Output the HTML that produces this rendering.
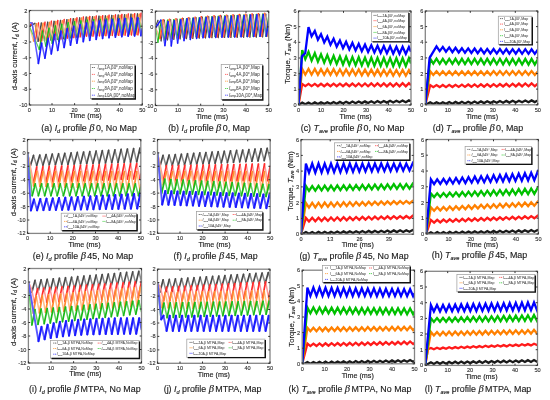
<!DOCTYPE html>
<html><head><meta charset="utf-8"><style>
html,body{margin:0;padding:0;background:#fff;width:550px;height:400px;overflow:hidden}
svg{display:block;will-change:transform}
text{font-family:"Liberation Sans",sans-serif;fill:#1a1a1a;stroke:#1a1a1a;stroke-width:0.14px}
.tk{font-size:5.6px;fill:#2a2a2a;stroke:#2a2a2a;stroke-width:0.1px}
.xl{font-size:7.2px}
.yl{font-size:7.7px}
.cap{font-size:8.9px}
.sub{font-size:5.5px}
.lg{fill:#505050;stroke:#505050;stroke-width:0.05px}
.lsub{font-size:66%}
</style></head><body>
<svg width="550" height="400" viewBox="0 0 550 400">
<rect width="550" height="400" fill="#fff"/>
<clipPath id="c0"><rect x="29.4" y="7.5" width="112.9" height="97.5"/></clipPath>
<g clip-path="url(#c0)">
<path d="M34.9 23.3L38.1 41.4M41.3 23.0L44.5 40.7M47.7 22.1L50.9 40.0M54.1 21.3L57.3 39.3M60.5 20.4L63.7 38.6M66.9 19.6L70.1 37.9M73.3 18.7L76.5 37.3M79.7 17.8L82.9 36.6M86.2 17.0L89.4 36.2M92.6 16.6L95.8 36.0M99.0 16.2L102.2 35.8M105.4 15.8L108.6 35.6M111.8 15.4L115.0 35.4M118.2 15.0L121.4 35.3M124.6 14.6L127.8 35.1M131.0 14.2L134.2 34.9M137.5 13.8L140.7 34.7" fill="none" stroke="#8a8a8a" stroke-width="1.22" stroke-linecap="round"/>
<path d="M29.4 26.2L34.9 23.3M38.1 41.4L41.3 23.0M44.5 40.7L47.7 22.1M50.9 40.0L54.1 21.3M57.3 39.3L60.5 20.4M63.7 38.6L66.9 19.6M70.1 37.9L73.3 18.7M76.5 37.3L79.7 17.8M82.9 36.6L86.2 17.0M89.4 36.2L92.6 16.6M95.8 36.0L99.0 16.2M102.2 35.8L105.4 15.8M108.6 35.6L111.8 15.4M115.0 35.4L118.2 15.0M121.4 35.3L124.6 14.6M127.8 35.1L131.0 14.2M134.2 34.9L137.5 13.8M140.7 34.7L142.3 23.9" fill="none" stroke="#4a4a4a" stroke-width="1.35" stroke-linecap="round"/>
<path d="M32.1 22.9L35.3 41.4M38.5 22.9L41.7 41.0M45.0 22.1L48.2 40.3M51.4 21.2L54.6 39.6M57.8 20.4L61.0 38.9M64.2 19.5L67.4 38.2M70.6 18.7L73.8 37.6M77.0 17.8L80.2 36.9M83.4 17.0L86.6 36.2M89.8 16.4L93.0 36.1M96.3 16.0L99.5 35.9M102.7 15.6L105.9 35.7M109.1 15.2L112.3 35.5M115.5 14.8L118.7 35.3M121.9 14.4L125.1 35.2M128.3 14.0L131.5 35.0M134.7 13.6L137.9 34.8M141.1 13.2L142.3 20.9" fill="none" stroke="#ff9a9a" stroke-width="1.22" stroke-linecap="round"/>
<path d="M29.4 26.2L32.1 22.9M35.3 41.4L38.5 22.9M41.7 41.0L45.0 22.1M48.2 40.3L51.4 21.2M54.6 39.6L57.8 20.4M61.0 38.9L64.2 19.5M67.4 38.2L70.6 18.7M73.8 37.6L77.0 17.8M80.2 36.9L83.4 17.0M86.6 36.2L89.8 16.4M93.0 36.1L96.3 16.0M99.5 35.9L102.7 15.6M105.9 35.7L109.1 15.2M112.3 35.5L115.5 14.8M118.7 35.3L121.9 14.4M125.1 35.2L128.3 14.0M131.5 35.0L134.7 13.6M137.9 34.8L141.1 13.2" fill="none" stroke="#ff2a2a" stroke-width="1.35" stroke-linecap="round"/>
<path d="M29.4 26.2L33.5 41.0M36.7 23.7L39.9 40.8M43.1 23.1L46.3 40.1M49.5 22.3L52.7 39.4M55.9 21.4L59.2 38.7M62.4 20.6L65.6 38.0M68.8 19.7L72.0 37.4M75.2 18.8L78.4 36.7M81.6 18.0L84.8 36.0M88.0 17.3L91.2 35.7M94.4 16.9L97.6 35.5M100.8 16.5L104.0 35.3M107.3 16.1L110.5 35.2M113.7 15.7L116.9 35.0M120.1 15.3L123.3 34.8M126.5 14.9L129.7 34.6M132.9 14.5L136.1 34.5M139.3 14.1L142.3 32.9" fill="none" stroke="#ffbf88" stroke-width="1.22" stroke-linecap="round"/>
<path d="M33.5 41.0L36.7 23.7M39.9 40.8L43.1 23.1M46.3 40.1L49.5 22.3M52.7 39.4L55.9 21.4M59.2 38.7L62.4 20.6M65.6 38.0L68.8 19.7M72.0 37.4L75.2 18.8M78.4 36.7L81.6 18.0M84.8 36.0L88.0 17.3M91.2 35.7L94.4 16.9M97.6 35.5L100.8 16.5M104.0 35.3L107.3 16.1M110.5 35.2L113.7 15.7M116.9 35.0L120.1 15.3M123.3 34.8L126.5 14.9M129.7 34.6L132.9 14.5M136.1 34.5L139.3 14.1" fill="none" stroke="#ff8a30" stroke-width="1.35" stroke-linecap="round"/>
<path d="M29.4 26.2L39.3 49.5M42.5 31.0L45.8 46.1M49.0 28.1L52.2 43.4M55.4 25.8L58.6 41.3M61.8 24.1L65.0 39.6M68.2 22.7L71.4 38.2M74.6 21.6L77.8 37.1M81.0 20.8L84.2 36.2M87.4 20.1L90.6 35.5M93.8 19.6L97.1 34.9M100.3 19.3L103.5 34.5M106.7 19.0L109.9 34.1M113.1 18.8L116.3 33.8M119.5 18.6L122.7 33.5M125.9 18.5L129.1 33.3M132.3 18.5L135.5 33.1M138.7 18.4L141.9 32.9" fill="none" stroke="#60d060" stroke-width="1.22" stroke-linecap="round"/>
<path d="M39.3 49.5L42.5 31.0M45.8 46.1L49.0 28.1M52.2 43.4L55.4 25.8M58.6 41.3L61.8 24.1M65.0 39.6L68.2 22.7M71.4 38.2L74.6 21.6M77.8 37.1L81.0 20.8M84.2 36.2L87.4 20.1M90.6 35.5L93.8 19.6M97.1 34.9L100.3 19.3M103.5 34.5L106.7 19.0M109.9 34.1L113.1 18.8M116.3 33.8L119.5 18.6M122.7 33.5L125.9 18.5M129.1 33.3L132.3 18.5M135.5 33.1L138.7 18.4M141.9 32.9L142.3 31.3" fill="none" stroke="#18b818" stroke-width="1.35" stroke-linecap="round"/>
<path d="M29.4 22.7L32.1 23.1M32.1 23.1L38.4 63.4M41.6 43.0L44.9 58.2M48.1 38.3L51.3 53.9M54.5 34.4L57.7 50.4M60.9 31.2L64.1 47.5M67.3 28.5L70.5 45.1M73.7 26.4L76.9 43.2M80.1 24.6L83.3 41.6M86.5 23.1L89.7 40.3M93.0 22.0L96.2 39.3M99.4 21.0L102.6 38.4M105.8 20.2L109.0 37.7M112.2 19.5L115.4 37.1M118.6 19.0L121.8 36.6M125.0 18.5L128.2 36.2M131.4 18.1L134.6 35.9M137.8 17.8L141.0 35.7" fill="none" stroke="#5a5aff" stroke-width="1.52" stroke-linecap="round"/>
<path d="M38.4 63.4L41.6 43.0M44.9 58.2L48.1 38.3M51.3 53.9L54.5 34.4M57.7 50.4L60.9 31.2M64.1 47.5L67.3 28.5M70.5 45.1L73.7 26.4M76.9 43.2L80.1 24.6M83.3 41.6L86.5 23.1M89.7 40.3L93.0 22.0M96.2 39.3L99.4 21.0M102.6 38.4L105.8 20.2M109.0 37.7L112.2 19.5M115.4 37.1L118.6 19.0M121.8 36.6L125.0 18.5M128.2 36.2L131.4 18.1M134.6 35.9L137.8 17.8M141.0 35.7L142.3 28.6" fill="none" stroke="#1a1aff" stroke-width="1.69" stroke-linecap="round"/>
</g>
<rect x="29.4" y="10.5" width="112.9" height="94.5" fill="none" stroke="#858585" stroke-width="1.3"/>
<path d="M29.4 105.0v-1.8M29.4 10.5v1.8M52.0 105.0v-1.8M52.0 10.5v1.8M74.6 105.0v-1.8M74.6 10.5v1.8M97.1 105.0v-1.8M97.1 10.5v1.8M119.7 105.0v-1.8M119.7 10.5v1.8M142.3 105.0v-1.8M142.3 10.5v1.8M29.4 105.0h1.8M142.3 105.0h-1.8M29.4 89.2h1.8M142.3 89.2h-1.8M29.4 73.5h1.8M142.3 73.5h-1.8M29.4 57.8h1.8M142.3 57.8h-1.8M29.4 42.0h1.8M142.3 42.0h-1.8M29.4 26.2h1.8M142.3 26.2h-1.8M29.4 10.5h1.8M142.3 10.5h-1.8" stroke="#303030" stroke-width="1"/>
<text x="27.4" y="107.0" text-anchor="end" class="tk">-10</text>
<text x="27.4" y="91.2" text-anchor="end" class="tk">-8</text>
<text x="27.4" y="75.5" text-anchor="end" class="tk">-6</text>
<text x="27.4" y="59.8" text-anchor="end" class="tk">-4</text>
<text x="27.4" y="44.0" text-anchor="end" class="tk">-2</text>
<text x="27.4" y="28.2" text-anchor="end" class="tk">0</text>
<text x="27.4" y="12.5" text-anchor="end" class="tk">2</text>
<text x="29.4" y="111.8" text-anchor="middle" class="tk">0</text>
<text x="52.0" y="111.8" text-anchor="middle" class="tk">10</text>
<text x="74.6" y="111.8" text-anchor="middle" class="tk">20</text>
<text x="97.1" y="111.8" text-anchor="middle" class="tk">30</text>
<text x="119.7" y="111.8" text-anchor="middle" class="tk">40</text>
<text x="142.3" y="111.8" text-anchor="middle" class="tk">50</text>
<rect x="90.6" y="64.4" width="44.4" height="34.3" fill="#fff" stroke="#9a9a9a" stroke-width="0.7"/>
<path d="M135.3 65.4V99.0H91.6" fill="none" stroke="#111" stroke-width="1.4"/>
<path d="M91.9 67.5h3.5" stroke="#1a1a1a" stroke-width="0.9" stroke-dasharray="1.2 0.6" opacity="0.7"/>
<text x="97.5" y="69.0" class="lg" font-size="4.45"><tspan font-style="italic">I</tspan><tspan class="lsub" dy="0.7">amp</tspan><tspan dy="-0.7">1A,</tspan>β0°,noMap</text>
<path d="M91.9 74.4h3.5" stroke="#ff1a1a" stroke-width="0.9" stroke-dasharray="1.2 0.6" opacity="0.7"/>
<text x="97.5" y="75.9" class="lg" font-size="4.45"><tspan font-style="italic">I</tspan><tspan class="lsub" dy="0.7">amp</tspan><tspan dy="-0.7">4A,</tspan>β0°,noMap</text>
<path d="M91.9 81.2h3.5" stroke="#ff8000" stroke-width="0.9" stroke-dasharray="1.2 0.6" opacity="0.7"/>
<text x="97.5" y="82.7" class="lg" font-size="4.45"><tspan font-style="italic">I</tspan><tspan class="lsub" dy="0.7">amp</tspan><tspan dy="-0.7">6A,</tspan>β0°,noMap</text>
<path d="M91.9 88.5h3.5" stroke="#00c000" stroke-width="0.9" stroke-dasharray="1.2 0.6" opacity="0.7"/>
<text x="97.5" y="90.0" class="lg" font-size="4.45"><tspan font-style="italic">I</tspan><tspan class="lsub" dy="0.7">amp</tspan><tspan dy="-0.7">8A,</tspan>β0°,noMap</text>
<path d="M91.9 95.2h3.5" stroke="#0000ff" stroke-width="0.9" stroke-dasharray="1.2 0.6" opacity="0.7"/>
<text x="97.5" y="96.7" class="lg" font-size="4.45"><tspan font-style="italic">I</tspan><tspan class="lsub" dy="0.7">amp</tspan><tspan dy="-0.7">10A,</tspan>β0°,noMap</text>
<text transform="translate(17.2,56.2) rotate(-90)" text-anchor="middle" class="yl">d-axis current, <tspan font-style="italic">I</tspan><tspan font-size="5" dy="1.3">d</tspan><tspan dy="-1.3"> (A)</tspan></text>
<text x="85.6" y="117.6" text-anchor="middle" class="xl">Time (ms)</text>
<text x="89.1" y="130.6" text-anchor="middle" class="cap">(a) <tspan font-style="italic">I</tspan><tspan class="sub" font-style="italic" dy="2">d</tspan><tspan dy="-2"> profile </tspan><tspan font-family="Liberation Serif" font-style="italic" font-size="10.5">β</tspan><tspan font-size="5"> </tspan>0, No Map</text>
<clipPath id="c43"><rect x="155.4" y="8.2" width="113.29999999999998" height="97.3"/></clipPath>
<g clip-path="url(#c43)">
<path d="M157.9 20.4L161.1 40.9M164.3 20.2L167.5 39.9M170.6 19.7L173.8 39.3M177.0 19.2L180.1 38.9M183.3 18.7L186.5 38.7M189.7 18.2L192.8 38.4M196.0 17.7L199.2 38.2M202.4 17.2L205.5 37.9M208.7 16.7L211.9 37.7M215.0 16.3L218.2 37.6M221.4 16.0L224.6 37.5M227.7 15.7L230.9 37.4M234.1 15.4L237.2 37.4M240.4 15.1L243.6 37.3M246.8 14.9L249.9 37.2M253.1 14.6L256.3 37.1M259.5 14.3L262.6 37.0M265.8 14.0L268.7 35.0" fill="none" stroke="#8a8a8a" stroke-width="1.08" stroke-linecap="round"/>
<path d="M155.4 26.9L157.9 20.4M161.1 40.9L164.3 20.2M167.5 39.9L170.6 19.7M173.8 39.3L177.0 19.2M180.1 38.9L183.3 18.7M186.5 38.7L189.7 18.2M192.8 38.4L196.0 17.7M199.2 38.2L202.4 17.2M205.5 37.9L208.7 16.7M211.9 37.7L215.0 16.3M218.2 37.6L221.4 16.0M224.6 37.5L227.7 15.7M230.9 37.4L234.1 15.4M237.2 37.4L240.4 15.1M243.6 37.3L246.8 14.9M249.9 37.2L253.1 14.6M256.3 37.1L259.5 14.3M262.6 37.0L265.8 14.0" fill="none" stroke="#4a4a4a" stroke-width="1.20" stroke-linecap="round"/>
<path d="M155.4 26.9L160.2 38.7M163.3 19.5L166.5 38.6M169.7 19.0L172.8 38.3M176.0 18.5L179.2 38.1M182.4 18.0L185.5 37.9M188.7 17.5L191.9 37.7M195.1 17.0L198.2 37.4M201.4 16.5L204.6 37.2M207.7 16.0L210.9 37.0M214.1 15.6L217.3 36.9M220.4 15.3L223.6 36.8M226.8 15.0L230.0 36.7M233.1 14.7L236.3 36.6M239.5 14.4L242.6 36.5M245.8 14.1L249.0 36.4M252.2 13.8L255.3 36.3M258.5 13.5L261.7 36.2M264.8 13.2L268.0 36.1" fill="none" stroke="#ff9a9a" stroke-width="1.08" stroke-linecap="round"/>
<path d="M160.2 38.7L163.3 19.5M166.5 38.6L169.7 19.0M172.8 38.3L176.0 18.5M179.2 38.1L182.4 18.0M185.5 37.9L188.7 17.5M191.9 37.7L195.1 17.0M198.2 37.4L201.4 16.5M204.6 37.2L207.7 16.0M210.9 37.0L214.1 15.6M217.3 36.9L220.4 15.3M223.6 36.8L226.8 15.0M230.0 36.7L233.1 14.7M236.3 36.6L239.5 14.4M242.6 36.5L245.8 14.1M249.0 36.4L252.2 13.8M255.3 36.3L258.5 13.5M261.7 36.2L264.8 13.2M268.0 36.1L268.7 31.2" fill="none" stroke="#ff2a2a" stroke-width="1.20" stroke-linecap="round"/>
<path d="M155.4 26.9L159.3 38.7M162.5 20.0L165.7 38.6M168.9 19.5L172.0 38.4M175.2 19.0L178.4 38.1M181.5 18.5L184.7 37.9M187.9 18.0L191.1 37.7M194.2 17.5L197.4 37.5M200.6 17.0L203.7 37.2M206.9 16.5L210.1 37.0M213.3 16.0L216.4 36.9M219.6 15.7L222.8 36.8M226.0 15.4L229.1 36.7M232.3 15.1L235.5 36.6M238.6 14.8L241.8 36.5M245.0 14.5L248.2 36.4M251.3 14.2L254.5 36.3M257.7 14.0L260.9 36.2M264.0 13.7L267.2 36.2" fill="none" stroke="#ffbf88" stroke-width="1.08" stroke-linecap="round"/>
<path d="M159.3 38.7L162.5 20.0M165.7 38.6L168.9 19.5M172.0 38.4L175.2 19.0M178.4 38.1L181.5 18.5M184.7 37.9L187.9 18.0M191.1 37.7L194.2 17.5M197.4 37.5L200.6 17.0M203.7 37.2L206.9 16.5M210.1 37.0L213.3 16.0M216.4 36.9L219.6 15.7M222.8 36.8L226.0 15.4M229.1 36.7L232.3 15.1M235.5 36.6L238.6 14.8M241.8 36.5L245.0 14.5M248.2 36.4L251.3 14.2M254.5 36.3L257.7 14.0M260.9 36.2L264.0 13.7M267.2 36.2L268.7 25.4" fill="none" stroke="#ff8a30" stroke-width="1.20" stroke-linecap="round"/>
<path d="M155.4 26.9L157.9 42.4M161.1 20.4L164.3 40.2M167.5 20.0L170.6 38.8M173.8 19.5L177.0 38.0M180.1 19.0L183.3 37.4M186.5 18.5L189.7 37.1M192.8 18.0L196.0 36.9M199.2 17.5L202.4 36.8M205.5 17.0L208.7 36.7M211.9 16.5L215.0 36.6M218.2 16.2L221.4 36.6M224.6 15.9L227.7 36.6M230.9 15.6L234.1 36.6M237.2 15.3L240.4 36.5M243.6 15.0L246.8 36.5M249.9 14.7L253.1 36.5M256.3 14.4L259.5 36.5M262.6 14.1L265.8 36.5" fill="none" stroke="#60d060" stroke-width="1.08" stroke-linecap="round"/>
<path d="M157.9 42.4L161.1 20.4M164.3 40.2L167.5 20.0M170.6 38.8L173.8 19.5M177.0 38.0L180.1 19.0M183.3 37.4L186.5 18.5M189.7 37.1L192.8 18.0M196.0 36.9L199.2 17.5M202.4 36.8L205.5 17.0M208.7 36.7L211.9 16.5M215.0 36.6L218.2 16.2M221.4 36.6L224.6 15.9M227.7 36.6L230.9 15.6M234.1 36.6L237.2 15.3M240.4 36.5L243.6 15.0M246.8 36.5L249.9 14.7M253.1 36.5L256.3 14.4M259.5 36.5L262.6 14.1M265.8 36.5L268.7 15.8" fill="none" stroke="#18b818" stroke-width="1.20" stroke-linecap="round"/>
<path d="M160.8 20.1L164.9 45.6M168.1 21.6L171.3 45.9M174.4 20.6L177.6 43.1M180.8 19.7L184.0 40.6M187.1 18.8L190.3 39.5M193.5 18.3L196.6 38.4M199.8 17.9L203.0 37.7M206.2 17.6L209.3 37.5M212.5 17.2L215.7 37.4M218.8 16.9L222.0 37.2M225.2 16.5L228.4 37.1M231.5 16.2L234.7 36.9M237.9 15.8L241.1 36.8M244.2 15.5L247.4 36.6M250.6 15.1L253.7 36.5M256.9 14.8L260.1 36.3M263.3 14.5L266.4 36.2" fill="none" stroke="#5a5aff" stroke-width="1.35" stroke-linecap="round"/>
<path d="M155.4 28.1L160.8 20.1M164.9 45.6L168.1 21.6M171.3 45.9L174.4 20.6M177.6 43.1L180.8 19.7M184.0 40.6L187.1 18.8M190.3 39.5L193.5 18.3M196.6 38.4L199.8 17.9M203.0 37.7L206.2 17.6M209.3 37.5L212.5 17.2M215.7 37.4L218.8 16.9M222.0 37.2L225.2 16.5M228.4 37.1L231.5 16.2M234.7 36.9L237.9 15.8M241.1 36.8L244.2 15.5M247.4 36.6L250.6 15.1M253.7 36.5L256.9 14.8M260.1 36.3L263.3 14.5M266.4 36.2L268.7 20.5" fill="none" stroke="#1a1aff" stroke-width="1.50" stroke-linecap="round"/>
</g>
<rect x="155.4" y="11.2" width="113.3" height="94.3" fill="none" stroke="#858585" stroke-width="1.3"/>
<path d="M155.4 105.5v-1.8M155.4 11.2v1.8M178.1 105.5v-1.8M178.1 11.2v1.8M200.7 105.5v-1.8M200.7 11.2v1.8M223.4 105.5v-1.8M223.4 11.2v1.8M246.0 105.5v-1.8M246.0 11.2v1.8M268.7 105.5v-1.8M268.7 11.2v1.8M155.4 105.5h1.8M268.7 105.5h-1.8M155.4 89.8h1.8M268.7 89.8h-1.8M155.4 74.1h1.8M268.7 74.1h-1.8M155.4 58.4h1.8M268.7 58.4h-1.8M155.4 42.6h1.8M268.7 42.6h-1.8M155.4 26.9h1.8M268.7 26.9h-1.8M155.4 11.2h1.8M268.7 11.2h-1.8" stroke="#303030" stroke-width="1"/>
<text x="153.4" y="107.5" text-anchor="end" class="tk">-10</text>
<text x="153.4" y="91.8" text-anchor="end" class="tk">-8</text>
<text x="153.4" y="76.1" text-anchor="end" class="tk">-6</text>
<text x="153.4" y="60.4" text-anchor="end" class="tk">-4</text>
<text x="153.4" y="44.6" text-anchor="end" class="tk">-2</text>
<text x="153.4" y="28.9" text-anchor="end" class="tk">0</text>
<text x="153.4" y="13.2" text-anchor="end" class="tk">2</text>
<text x="155.4" y="112.3" text-anchor="middle" class="tk">0</text>
<text x="178.1" y="112.3" text-anchor="middle" class="tk">10</text>
<text x="200.7" y="112.3" text-anchor="middle" class="tk">20</text>
<text x="223.4" y="112.3" text-anchor="middle" class="tk">30</text>
<text x="246.0" y="112.3" text-anchor="middle" class="tk">40</text>
<text x="268.7" y="112.3" text-anchor="middle" class="tk">50</text>
<rect x="221.2" y="64.4" width="41.2" height="35.3" fill="#fff" stroke="#9a9a9a" stroke-width="0.7"/>
<path d="M262.8 65.4V100.0H222.2" fill="none" stroke="#111" stroke-width="1.4"/>
<path d="M225.0 67.5h3.5" stroke="#1a1a1a" stroke-width="0.9" stroke-dasharray="1.2 0.6" opacity="0.7"/>
<text x="229.0" y="69.0" class="lg" font-size="4.5"><tspan font-style="italic">I</tspan><tspan class="lsub" dy="0.7">amp</tspan><tspan dy="-0.7">1A,</tspan>β0°,Map</text>
<path d="M225.0 74.4h3.5" stroke="#ff1a1a" stroke-width="0.9" stroke-dasharray="1.2 0.6" opacity="0.7"/>
<text x="229.0" y="75.9" class="lg" font-size="4.5"><tspan font-style="italic">I</tspan><tspan class="lsub" dy="0.7">amp</tspan><tspan dy="-0.7">4A,</tspan>β0°,Map</text>
<path d="M225.0 81.2h3.5" stroke="#ff8000" stroke-width="0.9" stroke-dasharray="1.2 0.6" opacity="0.7"/>
<text x="229.0" y="82.7" class="lg" font-size="4.5"><tspan font-style="italic">I</tspan><tspan class="lsub" dy="0.7">amp</tspan><tspan dy="-0.7">6A,</tspan>β0°,Map</text>
<path d="M225.0 88.5h3.5" stroke="#00c000" stroke-width="0.9" stroke-dasharray="1.2 0.6" opacity="0.7"/>
<text x="229.0" y="90.0" class="lg" font-size="4.5"><tspan font-style="italic">I</tspan><tspan class="lsub" dy="0.7">amp</tspan><tspan dy="-0.7">8A,</tspan>β0°,Map</text>
<path d="M225.0 95.2h3.5" stroke="#0000ff" stroke-width="0.9" stroke-dasharray="1.2 0.6" opacity="0.7"/>
<text x="229.0" y="96.7" class="lg" font-size="4.5"><tspan font-style="italic">I</tspan><tspan class="lsub" dy="0.7">amp</tspan><tspan dy="-0.7">10A,</tspan>β0°,Map</text>
<text x="212.0" y="118.6" text-anchor="middle" class="xl">Time (ms)</text>
<text x="209.0" y="130.5" text-anchor="middle" class="cap">(b) <tspan font-style="italic">I</tspan><tspan class="sub" font-style="italic" dy="2">d</tspan><tspan dy="-2"> profile </tspan><tspan font-family="Liberation Serif" font-style="italic" font-size="10.5">β</tspan><tspan font-size="5"> </tspan>0, Map</text>
<clipPath id="c85"><rect x="298.5" y="8.0" width="112.5" height="97.0"/></clipPath>
<g clip-path="url(#c85)">
<polyline points="298.5,105.0 302.2,102.6 305.3,104.3 308.5,102.6 311.6,104.2 314.8,102.4 317.9,104.1 321.0,102.3 324.2,103.9 327.3,102.2 330.5,103.8 333.6,102.0 336.7,103.7 339.9,101.9 343.0,103.5 346.1,101.8 349.3,103.4 352.4,101.6 355.6,103.3 358.7,101.5 361.8,103.1 365.0,101.4 368.1,103.0 371.3,101.2 374.4,102.9 377.5,101.1 380.7,102.7 383.8,101.0 386.9,102.6 390.1,100.8 393.2,102.5 396.4,100.7 399.5,102.3 402.6,100.6 405.8,102.2 408.9,100.4 411.0,101.5" fill="none" stroke="#1a1a1a" stroke-width="2.3" stroke-linejoin="miter" stroke-miterlimit="4"/>
<polyline points="298.5,105.0 302.2,83.9 305.3,86.1 308.5,83.9 311.6,86.1 314.8,83.9 317.9,86.2 321.0,83.8 324.2,86.2 327.3,83.8 330.5,86.2 333.6,83.7 336.7,86.2 339.9,83.7 343.0,86.2 346.1,83.6 349.3,86.2 352.4,83.6 355.6,86.3 358.7,83.5 361.8,86.3 365.0,83.5 368.1,86.3 371.3,83.4 374.4,86.3 377.5,83.4 380.7,86.3 383.8,83.4 386.9,86.4 390.1,83.3 393.2,86.4 396.4,83.3 399.5,86.4 402.6,83.2 405.8,86.4 408.9,83.2 411.0,85.3" fill="none" stroke="#ff1a1a" stroke-width="2.3" stroke-linejoin="miter" stroke-miterlimit="4"/>
<polyline points="298.5,105.0 302.2,68.9 305.3,74.7 308.5,68.9 311.6,74.7 314.8,69.0 317.9,74.8 321.0,69.1 324.2,74.9 327.3,69.1 330.5,74.9 333.6,69.2 336.7,75.0 339.9,69.3 343.0,75.1 346.1,69.4 349.3,75.1 352.4,69.4 355.6,75.2 358.7,69.5 361.8,75.3 365.0,69.6 368.1,75.3 371.3,69.7 374.4,75.4 377.5,69.7 380.7,75.5 383.8,69.8 386.9,75.5 390.1,69.9 393.2,75.6 396.4,70.0 399.5,75.7 402.6,70.0 405.8,75.7 408.9,70.1 411.0,73.9" fill="none" stroke="#ff8000" stroke-width="2.3" stroke-linejoin="miter" stroke-miterlimit="4"/>
<polyline points="298.5,105.0 302.2,50.2 305.3,59.1 308.5,51.9 311.6,60.6 314.8,53.2 317.9,61.7 321.0,54.3 324.2,62.7 327.3,55.1 330.5,63.4 333.6,55.8 336.7,64.0 339.9,56.3 343.0,64.5 346.1,56.7 349.3,64.9 352.4,57.1 355.6,65.2 358.7,57.3 361.8,65.4 365.0,57.6 368.1,65.6 371.3,57.7 374.4,65.8 377.5,57.9 380.7,65.9 383.8,58.0 386.9,66.0 390.1,58.1 393.2,66.1 396.4,58.1 399.5,66.1 402.6,58.2 405.8,66.2 408.9,58.2 411.0,63.5" fill="none" stroke="#00c000" stroke-width="2.3" stroke-linejoin="miter" stroke-miterlimit="4"/>
<polyline points="298.5,105.0 301.9,56.4 305.2,53.3 308.5,27.2 311.6,36.3 314.8,31.0 317.9,39.7 321.0,34.1 324.2,42.5 327.3,36.6 330.5,44.8 333.6,38.7 336.7,46.6 339.9,40.4 343.0,48.1 346.1,41.7 349.3,49.4 352.4,42.9 355.6,50.4 358.7,43.8 361.8,51.2 365.0,44.5 368.1,51.9 371.3,45.2 374.4,52.5 377.5,45.7 380.7,52.9 383.8,46.1 386.9,53.3 390.1,46.4 393.2,53.6 396.4,46.7 399.5,53.8 402.6,46.9 405.8,54.0 408.9,47.1 411.0,51.8" fill="none" stroke="#0000ff" stroke-width="2.3" stroke-linejoin="miter" stroke-miterlimit="4"/>
</g>
<rect x="298.5" y="11.0" width="112.5" height="94.0" fill="none" stroke="#858585" stroke-width="1.3"/>
<path d="M298.5 105.0v-1.8M298.5 11.0v1.8M321.0 105.0v-1.8M321.0 11.0v1.8M343.5 105.0v-1.8M343.5 11.0v1.8M366.0 105.0v-1.8M366.0 11.0v1.8M388.5 105.0v-1.8M388.5 11.0v1.8M411.0 105.0v-1.8M411.0 11.0v1.8M298.5 105.0h1.8M411.0 105.0h-1.8M298.5 89.3h1.8M411.0 89.3h-1.8M298.5 73.7h1.8M411.0 73.7h-1.8M298.5 58.0h1.8M411.0 58.0h-1.8M298.5 42.3h1.8M411.0 42.3h-1.8M298.5 26.7h1.8M411.0 26.7h-1.8M298.5 11.0h1.8M411.0 11.0h-1.8" stroke="#303030" stroke-width="1"/>
<text x="296.5" y="107.0" text-anchor="end" class="tk">0</text>
<text x="296.5" y="91.3" text-anchor="end" class="tk">1</text>
<text x="296.5" y="75.7" text-anchor="end" class="tk">2</text>
<text x="296.5" y="60.0" text-anchor="end" class="tk">3</text>
<text x="296.5" y="44.3" text-anchor="end" class="tk">4</text>
<text x="296.5" y="28.7" text-anchor="end" class="tk">5</text>
<text x="296.5" y="13.0" text-anchor="end" class="tk">6</text>
<text x="298.5" y="111.8" text-anchor="middle" class="tk">0</text>
<text x="321.0" y="111.8" text-anchor="middle" class="tk">10</text>
<text x="343.5" y="111.8" text-anchor="middle" class="tk">20</text>
<text x="366.0" y="111.8" text-anchor="middle" class="tk">30</text>
<text x="388.5" y="111.8" text-anchor="middle" class="tk">40</text>
<text x="411.0" y="111.8" text-anchor="middle" class="tk">50</text>
<rect x="371.6" y="12.1" width="37.1" height="29.5" fill="#fff" stroke="#9a9a9a" stroke-width="0.7"/>
<path d="M409.0 13.1V41.9H372.6" fill="none" stroke="#111" stroke-width="1.4"/>
<path d="M373.5 15.4h3.5" stroke="#1a1a1a" stroke-width="0.9" stroke-dasharray="1.2 0.6" opacity="0.7"/>
<text x="377.0" y="16.6" class="lg" font-size="3.55"><tspan font-style="italic">I</tspan><tspan class="lsub" dy="0.7">amp</tspan><tspan dy="-0.7">1A,</tspan>β0°,noMap</text>
<path d="M373.5 20.7h3.5" stroke="#ff1a1a" stroke-width="0.9" stroke-dasharray="1.2 0.6" opacity="0.7"/>
<text x="377.0" y="21.9" class="lg" font-size="3.55"><tspan font-style="italic">I</tspan><tspan class="lsub" dy="0.7">amp</tspan><tspan dy="-0.7">4A,</tspan>β0°,noMap</text>
<path d="M373.5 26.6h3.5" stroke="#ff8000" stroke-width="0.9" stroke-dasharray="1.2 0.6" opacity="0.7"/>
<text x="377.0" y="27.8" class="lg" font-size="3.55"><tspan font-style="italic">I</tspan><tspan class="lsub" dy="0.7">amp</tspan><tspan dy="-0.7">6A,</tspan>β0°,noMap</text>
<path d="M373.5 32.4h3.5" stroke="#00c000" stroke-width="0.9" stroke-dasharray="1.2 0.6" opacity="0.7"/>
<text x="377.0" y="33.6" class="lg" font-size="3.55"><tspan font-style="italic">I</tspan><tspan class="lsub" dy="0.7">amp</tspan><tspan dy="-0.7">8A,</tspan>β0°,noMap</text>
<path d="M373.5 38.1h3.5" stroke="#0000ff" stroke-width="0.9" stroke-dasharray="1.2 0.6" opacity="0.7"/>
<text x="377.0" y="39.3" class="lg" font-size="3.55"><tspan font-style="italic">I</tspan><tspan class="lsub" dy="0.7">amp</tspan><tspan dy="-0.7">10A,</tspan>β0°,noMap</text>
<text transform="translate(289.6,53.9) rotate(-90)" text-anchor="middle" class="yl">Torque, <tspan font-style="italic">T</tspan><tspan font-size="5" dy="1.3" font-style="italic">ave</tspan><tspan dy="-1.3"> (Nm)</tspan></text>
<text x="355.6" y="118.6" text-anchor="middle" class="xl">Time (ms)</text>
<text x="352.6" y="130.5" text-anchor="middle" class="cap">(c) <tspan font-style="italic">T</tspan><tspan class="sub" font-style="italic" dy="2">ave</tspan><tspan dy="-2"> profile </tspan><tspan font-family="Liberation Serif" font-style="italic" font-size="10.5">β</tspan><tspan font-size="5"> </tspan>0, No Map</text>
<clipPath id="c123"><rect x="425.3" y="8.0" width="112.44999999999999" height="96.75"/></clipPath>
<g clip-path="url(#c123)">
<polyline points="425.3,104.8 427.0,104.0 430.2,102.3 433.3,104.0 436.5,102.3 439.7,103.9 442.8,102.2 446.0,103.8 449.2,102.0 452.4,103.7 455.5,101.9 458.7,103.6 461.9,101.8 465.0,103.4 468.2,101.7 471.4,103.3 474.6,101.5 477.7,103.2 480.9,101.4 484.1,103.1 487.2,101.3 490.4,102.9 493.6,101.2 496.8,102.8 499.9,101.0 503.1,102.7 506.3,100.9 509.4,102.6 512.6,100.8 515.8,102.4 518.9,100.7 522.1,102.3 525.3,100.5 528.5,102.2 531.6,100.4 534.8,102.1 537.8,100.4" fill="none" stroke="#1a1a1a" stroke-width="2.3" stroke-linejoin="miter" stroke-miterlimit="4"/>
<polyline points="425.3,104.8 430.2,85.1 433.3,87.2 436.5,85.1 439.7,87.1 442.8,85.0 446.0,87.1 449.2,84.9 452.4,87.0 455.5,84.8 458.7,86.9 461.9,84.6 465.0,86.9 468.2,84.5 471.4,86.8 474.6,84.4 477.7,86.8 480.9,84.3 484.1,86.7 487.2,84.2 490.4,86.7 493.6,84.1 496.8,86.6 499.9,84.0 503.1,86.5 506.3,83.8 509.4,86.5 512.6,83.7 515.8,86.4 518.9,83.6 522.1,86.4 525.3,83.5 528.5,86.3 531.6,83.4 534.8,86.3 537.8,83.5" fill="none" stroke="#ff1a1a" stroke-width="2.3" stroke-linejoin="miter" stroke-miterlimit="4"/>
<polyline points="425.3,104.8 430.2,71.2 433.3,75.0 436.5,71.2 439.7,75.0 442.8,71.2 446.0,75.0 449.2,71.2 452.4,75.0 455.5,71.2 458.7,75.0 461.9,71.2 465.0,75.0 468.2,71.2 471.4,75.0 474.6,71.2 477.7,75.0 480.9,71.2 484.1,75.0 487.2,71.2 490.4,75.0 493.6,71.1 496.8,75.0 499.9,71.1 503.1,75.0 506.3,71.1 509.4,75.0 512.6,71.1 515.8,75.0 518.9,71.1 522.1,75.0 525.3,71.1 528.5,75.0 531.6,71.1 534.8,75.0 537.8,71.4" fill="none" stroke="#ff8000" stroke-width="2.3" stroke-linejoin="miter" stroke-miterlimit="4"/>
<polyline points="425.3,104.8 430.2,58.7 433.3,63.7 436.5,58.7 439.7,63.8 442.8,58.8 446.0,63.8 449.2,58.8 452.4,63.9 455.5,58.8 458.7,64.0 461.9,58.8 465.0,64.0 468.2,58.8 471.4,64.1 474.6,58.8 477.7,64.1 480.9,58.8 484.1,64.2 487.2,58.8 490.4,64.2 493.6,58.8 496.8,64.3 499.9,58.8 503.1,64.4 506.3,58.8 509.4,64.4 512.6,58.9 515.8,64.5 518.9,58.9 522.1,64.5 525.3,58.9 528.5,64.6 531.6,58.9 534.8,64.6 537.8,59.3" fill="none" stroke="#00c000" stroke-width="2.3" stroke-linejoin="miter" stroke-miterlimit="4"/>
<polyline points="425.3,104.8 429.6,57.9 436.5,46.3 439.7,51.1 442.8,46.9 446.0,51.7 449.2,47.4 452.4,52.2 455.5,47.8 458.7,52.5 461.9,48.2 465.0,52.8 468.2,48.4 471.4,53.0 474.6,48.6 477.7,53.2 480.9,48.8 484.1,53.4 487.2,48.9 490.4,53.5 493.6,49.0 496.8,53.6 499.9,49.1 503.1,53.6 506.3,49.1 509.4,53.7 512.6,49.2 515.8,53.7 518.9,49.2 522.1,53.8 525.3,49.2 528.5,53.8 531.6,49.3 534.8,53.8 537.8,49.6" fill="none" stroke="#0000ff" stroke-width="2.3" stroke-linejoin="miter" stroke-miterlimit="4"/>
</g>
<rect x="425.3" y="11.0" width="112.4" height="93.8" fill="none" stroke="#858585" stroke-width="1.3"/>
<path d="M425.3 104.8v-1.8M425.3 11.0v1.8M447.8 104.8v-1.8M447.8 11.0v1.8M470.3 104.8v-1.8M470.3 11.0v1.8M492.8 104.8v-1.8M492.8 11.0v1.8M515.3 104.8v-1.8M515.3 11.0v1.8M537.8 104.8v-1.8M537.8 11.0v1.8M425.3 104.8h1.8M537.8 104.8h-1.8M425.3 89.1h1.8M537.8 89.1h-1.8M425.3 73.5h1.8M537.8 73.5h-1.8M425.3 57.9h1.8M537.8 57.9h-1.8M425.3 42.2h1.8M537.8 42.2h-1.8M425.3 26.6h1.8M537.8 26.6h-1.8M425.3 11.0h1.8M537.8 11.0h-1.8" stroke="#303030" stroke-width="1"/>
<text x="423.3" y="106.8" text-anchor="end" class="tk">0</text>
<text x="423.3" y="91.1" text-anchor="end" class="tk">1</text>
<text x="423.3" y="75.5" text-anchor="end" class="tk">2</text>
<text x="423.3" y="59.9" text-anchor="end" class="tk">3</text>
<text x="423.3" y="44.2" text-anchor="end" class="tk">4</text>
<text x="423.3" y="28.6" text-anchor="end" class="tk">5</text>
<text x="423.3" y="13.0" text-anchor="end" class="tk">6</text>
<text x="425.3" y="111.5" text-anchor="middle" class="tk">0</text>
<text x="447.8" y="111.5" text-anchor="middle" class="tk">10</text>
<text x="470.3" y="111.5" text-anchor="middle" class="tk">20</text>
<text x="492.8" y="111.5" text-anchor="middle" class="tk">30</text>
<text x="515.3" y="111.5" text-anchor="middle" class="tk">40</text>
<text x="537.8" y="111.5" text-anchor="middle" class="tk">50</text>
<rect x="498.3" y="16.2" width="33.7" height="28.4" fill="#fff" stroke="#9a9a9a" stroke-width="0.7"/>
<path d="M532.3 17.2V44.9H499.3" fill="none" stroke="#111" stroke-width="1.4"/>
<path d="M500.0 18.6h3.5" stroke="#1a1a1a" stroke-width="0.9" stroke-dasharray="1.2 0.6" opacity="0.7"/>
<text x="504.0" y="19.8" class="lg" font-size="3.55"><tspan font-style="italic">I</tspan><tspan class="lsub" dy="0.7">amp</tspan><tspan dy="-0.7">1A,</tspan>β0°,Map</text>
<path d="M500.0 24.1h3.5" stroke="#ff1a1a" stroke-width="0.9" stroke-dasharray="1.2 0.6" opacity="0.7"/>
<text x="504.0" y="25.3" class="lg" font-size="3.55"><tspan font-style="italic">I</tspan><tspan class="lsub" dy="0.7">amp</tspan><tspan dy="-0.7">4A,</tspan>β0°,Map</text>
<path d="M500.0 29.8h3.5" stroke="#ff8000" stroke-width="0.9" stroke-dasharray="1.2 0.6" opacity="0.7"/>
<text x="504.0" y="31.0" class="lg" font-size="3.55"><tspan font-style="italic">I</tspan><tspan class="lsub" dy="0.7">amp</tspan><tspan dy="-0.7">6A,</tspan>β0°,Map</text>
<path d="M500.0 35.7h3.5" stroke="#00c000" stroke-width="0.9" stroke-dasharray="1.2 0.6" opacity="0.7"/>
<text x="504.0" y="36.9" class="lg" font-size="3.55"><tspan font-style="italic">I</tspan><tspan class="lsub" dy="0.7">amp</tspan><tspan dy="-0.7">8A,</tspan>β0°,Map</text>
<path d="M500.0 41.4h3.5" stroke="#0000ff" stroke-width="0.9" stroke-dasharray="1.2 0.6" opacity="0.7"/>
<text x="504.0" y="42.6" class="lg" font-size="3.55"><tspan font-style="italic">I</tspan><tspan class="lsub" dy="0.7">amp</tspan><tspan dy="-0.7">10A,</tspan>β0°,Map</text>
<text x="482.0" y="118.6" text-anchor="middle" class="xl">Time (ms)</text>
<text x="478.0" y="130.5" text-anchor="middle" class="cap">(d) <tspan font-style="italic">T</tspan><tspan class="sub" font-style="italic" dy="2">ave</tspan><tspan dy="-2"> profile </tspan><tspan font-family="Liberation Serif" font-style="italic" font-size="10.5">β</tspan><tspan font-size="5"> </tspan>0, Map</text>
<clipPath id="c160"><rect x="27.5" y="136.5" width="113.30000000000001" height="96.9"/></clipPath>
<g clip-path="url(#c160)">
<path d="M27.5 152.9L30.4 165.7M33.5 155.4L36.7 165.5M39.8 155.0L42.9 165.2M46.1 154.6L49.2 165.0M52.3 154.1L55.4 164.8M58.6 153.7L61.7 164.6M64.8 153.3L67.9 164.4M71.1 152.9L74.2 164.2M77.3 152.4L80.5 163.9M83.6 152.0L86.7 163.7M89.8 151.6L93.0 163.5M96.1 151.1L99.2 163.3M102.3 150.7L105.5 163.1M108.6 150.3L111.7 162.9M114.9 149.9L118.0 162.6M121.1 149.4L124.2 162.4M127.4 149.0L130.5 162.2M133.6 148.6L136.7 162.0M139.9 148.2L140.8 152.2" fill="none" stroke="#8a8a8a" stroke-width="1.53" stroke-linecap="round"/>
<path d="M30.4 165.7L33.5 155.4M36.7 165.5L39.8 155.0M42.9 165.2L46.1 154.6M49.2 165.0L52.3 154.1M55.4 164.8L58.6 153.7M61.7 164.6L64.8 153.3M67.9 164.4L71.1 152.9M74.2 164.2L77.3 152.4M80.5 163.9L83.6 152.0M86.7 163.7L89.8 151.6M93.0 163.5L96.1 151.1M99.2 163.3L102.3 150.7M105.5 163.1L108.6 150.3M111.7 162.9L114.9 149.9M118.0 162.6L121.1 149.4M124.2 162.4L127.4 149.0M130.5 162.2L133.6 148.6M136.7 162.0L139.9 148.2" fill="none" stroke="#4a4a4a" stroke-width="1.70" stroke-linecap="round"/>
<path d="M27.5 152.9L30.4 167.0M30.4 167.0L33.5 182.3M36.7 166.8L39.8 182.1M42.9 166.6L46.1 181.9M49.2 166.4L52.3 181.7M55.4 166.2L58.6 181.5M61.7 166.0L64.8 181.3M67.9 165.8L71.1 181.1M74.2 165.6L77.3 180.8M80.5 165.4L83.6 180.6M86.7 165.2L89.8 180.4M93.0 165.0L96.1 180.2M99.2 164.7L102.3 180.0M105.5 164.5L108.6 179.8M111.7 164.3L114.9 179.6M118.0 164.1L121.1 179.4M124.2 163.9L127.4 179.2M130.5 163.7L133.6 179.0M136.7 163.5L139.9 178.8" fill="none" stroke="#ff9a9a" stroke-width="1.53" stroke-linecap="round"/>
<path d="M33.5 182.3L36.7 166.8M39.8 182.1L42.9 166.6M46.1 181.9L49.2 166.4M52.3 181.7L55.4 166.2M58.6 181.5L61.7 166.0M64.8 181.3L67.9 165.8M71.1 181.1L74.2 165.6M77.3 180.8L80.5 165.4M83.6 180.6L86.7 165.2M89.8 180.4L93.0 165.0M96.1 180.2L99.2 164.7M102.3 180.0L105.5 164.5M108.6 179.8L111.7 164.3M114.9 179.6L118.0 164.1M121.1 179.4L124.2 163.9M127.4 179.2L130.5 163.7M133.6 179.0L136.7 163.5M139.9 178.8L140.8 174.1" fill="none" stroke="#ff2a2a" stroke-width="1.70" stroke-linecap="round"/>
<path d="M27.5 152.9L30.5 171.5M30.5 171.5L33.6 186.0M36.8 171.5L39.9 186.3M43.0 171.5L46.1 186.5M49.3 171.5L52.4 186.7M55.5 171.5L58.6 186.9M61.8 171.5L64.9 187.1M68.0 171.5L71.2 187.3M74.3 171.5L77.4 187.5M80.5 171.5L83.7 187.7M86.8 171.5L89.9 187.9M93.0 171.5L96.2 188.1M99.3 171.5L102.4 188.3M105.6 171.5L108.7 188.6M111.8 171.5L114.9 188.8M118.1 171.5L121.2 189.0M124.3 171.5L127.4 189.2M130.6 171.5L133.7 189.4M136.8 171.5L139.9 189.6" fill="none" stroke="#ffbf88" stroke-width="1.53" stroke-linecap="round"/>
<path d="M33.6 186.0L36.8 171.5M39.9 186.3L43.0 171.5M46.1 186.5L49.3 171.5M52.4 186.7L55.5 171.5M58.6 186.9L61.8 171.5M64.9 187.1L68.0 171.5M71.2 187.3L74.3 171.5M77.4 187.5L80.5 171.5M83.7 187.7L86.8 171.5M89.9 187.9L93.0 171.5M96.2 188.1L99.3 171.5M102.4 188.3L105.6 171.5M108.7 188.6L111.8 171.5M114.9 188.8L118.1 171.5M121.2 189.0L124.3 171.5M127.4 189.2L130.6 171.5M133.7 189.4L136.8 171.5M139.9 189.6L140.8 184.7" fill="none" stroke="#ff8a30" stroke-width="1.70" stroke-linecap="round"/>
<path d="M27.5 152.9L32.2 195.7M35.3 183.9L38.4 195.7M41.6 183.9L44.7 195.7M47.8 183.9L50.9 195.7M54.1 183.9L57.2 195.7M60.3 183.9L63.4 195.7M66.6 183.9L69.7 195.7M72.8 183.9L76.0 195.7M79.1 183.9L82.2 195.7M85.3 183.9L88.5 195.7M91.6 183.9L94.7 195.7M97.8 183.9L101.0 195.7M104.1 183.9L107.2 195.7M110.3 183.9L113.5 195.7M116.6 183.9L119.7 195.7M122.9 183.9L126.0 195.7M129.1 183.9L132.2 195.7M135.4 183.9L138.5 195.7" fill="none" stroke="#60d060" stroke-width="1.53" stroke-linecap="round"/>
<path d="M32.2 195.7L35.3 183.9M38.4 195.7L41.6 183.9M44.7 195.7L47.8 183.9M50.9 195.7L54.1 183.9M57.2 195.7L60.3 183.9M63.4 195.7L66.6 183.9M69.7 195.7L72.8 183.9M76.0 195.7L79.1 183.9M82.2 195.7L85.3 183.9M88.5 195.7L91.6 183.9M94.7 195.7L97.8 183.9M101.0 195.7L104.1 183.9M107.2 195.7L110.3 183.9M113.5 195.7L116.6 183.9M119.7 195.7L122.9 183.9M126.0 195.7L129.1 183.9M132.2 195.7L135.4 183.9M138.5 195.7L140.8 187.0" fill="none" stroke="#18b818" stroke-width="1.70" stroke-linecap="round"/>
<path d="M27.5 152.9L30.9 210.4M34.0 199.4L37.1 210.3M40.3 199.0L43.4 210.1M46.5 198.7L49.6 210.0M52.8 198.4L55.9 209.9M59.0 198.0L62.1 209.8M65.3 197.7L68.4 209.7M71.5 197.4L74.7 209.6M77.8 197.1L80.9 209.5M84.0 196.7L87.2 209.4M90.3 196.4L93.4 209.2M96.5 196.1L99.7 209.1M102.8 195.7L105.9 209.0M109.1 195.4L112.2 208.9M115.3 195.1L118.4 208.8M121.6 194.7L124.7 208.7M127.8 194.4L130.9 208.6M134.1 194.1L137.2 208.5M140.3 193.8L140.8 196.0" fill="none" stroke="#5a5aff" stroke-width="1.91" stroke-linecap="round"/>
<path d="M30.9 210.4L34.0 199.4M37.1 210.3L40.3 199.0M43.4 210.1L46.5 198.7M49.6 210.0L52.8 198.4M55.9 209.9L59.0 198.0M62.1 209.8L65.3 197.7M68.4 209.7L71.5 197.4M74.7 209.6L77.8 197.1M80.9 209.5L84.0 196.7M87.2 209.4L90.3 196.4M93.4 209.2L96.5 196.1M99.7 209.1L102.8 195.7M105.9 209.0L109.1 195.4M112.2 208.9L115.3 195.1M118.4 208.8L121.6 194.7M124.7 208.7L127.8 194.4M130.9 208.6L134.1 194.1M137.2 208.5L140.3 193.8" fill="none" stroke="#1a1aff" stroke-width="2.12" stroke-linecap="round"/>
</g>
<rect x="27.5" y="139.5" width="113.3" height="93.9" fill="none" stroke="#858585" stroke-width="1.3"/>
<path d="M27.5 233.4v-1.8M27.5 139.5v1.8M50.2 233.4v-1.8M50.2 139.5v1.8M72.8 233.4v-1.8M72.8 139.5v1.8M95.5 233.4v-1.8M95.5 139.5v1.8M118.1 233.4v-1.8M118.1 139.5v1.8M140.8 233.4v-1.8M140.8 139.5v1.8M27.5 233.4h1.8M140.8 233.4h-1.8M27.5 220.0h1.8M140.8 220.0h-1.8M27.5 206.6h1.8M140.8 206.6h-1.8M27.5 193.2h1.8M140.8 193.2h-1.8M27.5 179.7h1.8M140.8 179.7h-1.8M27.5 166.3h1.8M140.8 166.3h-1.8M27.5 152.9h1.8M140.8 152.9h-1.8M27.5 139.5h1.8M140.8 139.5h-1.8" stroke="#303030" stroke-width="1"/>
<text x="25.5" y="235.4" text-anchor="end" class="tk">-12</text>
<text x="25.5" y="222.0" text-anchor="end" class="tk">-10</text>
<text x="25.5" y="208.6" text-anchor="end" class="tk">-8</text>
<text x="25.5" y="195.2" text-anchor="end" class="tk">-6</text>
<text x="25.5" y="181.7" text-anchor="end" class="tk">-4</text>
<text x="25.5" y="168.3" text-anchor="end" class="tk">-2</text>
<text x="25.5" y="154.9" text-anchor="end" class="tk">0</text>
<text x="25.5" y="141.5" text-anchor="end" class="tk">2</text>
<text x="27.5" y="240.2" text-anchor="middle" class="tk">0</text>
<text x="50.2" y="240.2" text-anchor="middle" class="tk">10</text>
<text x="72.8" y="240.2" text-anchor="middle" class="tk">20</text>
<text x="95.5" y="240.2" text-anchor="middle" class="tk">30</text>
<text x="118.1" y="240.2" text-anchor="middle" class="tk">40</text>
<text x="140.8" y="240.2" text-anchor="middle" class="tk">50</text>
<rect x="61.2" y="213.2" width="75.6" height="17.2" fill="#fff" stroke="#9a9a9a" stroke-width="0.7"/>
<path d="M137.1 214.2V230.7H62.2" fill="none" stroke="#111" stroke-width="1.4"/>
<path d="M64.0 216.1h3.5" stroke="#1a1a1a" stroke-width="0.9" stroke-dasharray="1.2 0.6" opacity="0.7"/>
<text x="67.3" y="217.3" class="lg" font-size="3.55"><tspan font-style="italic">I</tspan><tspan class="lsub" dy="0.7">amp</tspan><tspan dy="-0.7">1A,</tspan>β45°,noMap</text>
<path d="M102.5 216.1h3.5" stroke="#ff1a1a" stroke-width="0.9" stroke-dasharray="1.2 0.6" opacity="0.7"/>
<text x="105.7" y="217.3" class="lg" font-size="3.55"><tspan font-style="italic">I</tspan><tspan class="lsub" dy="0.7">amp</tspan><tspan dy="-0.7">4A,</tspan>β45°,noMap</text>
<path d="M64.0 221.4h3.5" stroke="#ff8000" stroke-width="0.9" stroke-dasharray="1.2 0.6" opacity="0.7"/>
<text x="67.3" y="222.6" class="lg" font-size="3.55"><tspan font-style="italic">I</tspan><tspan class="lsub" dy="0.7">amp</tspan><tspan dy="-0.7">6A,</tspan>β45°,noMap</text>
<path d="M102.5 221.4h3.5" stroke="#00c000" stroke-width="0.9" stroke-dasharray="1.2 0.6" opacity="0.7"/>
<text x="105.7" y="222.6" class="lg" font-size="3.55"><tspan font-style="italic">I</tspan><tspan class="lsub" dy="0.7">amp</tspan><tspan dy="-0.7">8A,</tspan>β45°,noMap</text>
<path d="M64.0 226.8h3.5" stroke="#0000ff" stroke-width="0.9" stroke-dasharray="1.2 0.6" opacity="0.7"/>
<text x="67.3" y="228.0" class="lg" font-size="3.55"><tspan font-style="italic">I</tspan><tspan class="lsub" dy="0.7">amp</tspan><tspan dy="-0.7">10A,</tspan>β45°,noMap</text>
<text transform="translate(15.9,182.2) rotate(-90)" text-anchor="middle" class="yl">d-axis current, <tspan font-style="italic">I</tspan><tspan font-size="5" dy="1.3">d</tspan><tspan dy="-1.3"> (A)</tspan></text>
<text x="84.5" y="247.1" text-anchor="middle" class="xl">Time (ms)</text>
<text x="83.0" y="258.6" text-anchor="middle" class="cap">(e) <tspan font-style="italic">I</tspan><tspan class="sub" font-style="italic" dy="2">d</tspan><tspan dy="-2"> profile </tspan><tspan font-family="Liberation Serif" font-style="italic" font-size="10.5">β</tspan><tspan font-size="5"> </tspan>45, No Map</text>
<clipPath id="c204"><rect x="157.5" y="136.5" width="112.69999999999999" height="96.80000000000001"/></clipPath>
<g clip-path="url(#c204)">
<path d="M157.5 152.9L160.0 166.2M163.0 155.4L166.1 165.8M169.1 155.0L172.2 165.5M175.3 154.6L178.3 165.2M181.4 154.2L184.5 164.9M187.5 153.7L190.6 164.5M193.7 153.3L196.7 164.2M199.8 152.9L202.9 163.9M205.9 152.5L209.0 163.6M212.1 152.1L215.1 163.2M218.2 151.7L221.3 162.9M224.3 151.2L227.4 162.6M230.5 150.8L233.5 162.3M236.6 150.4L239.7 161.9M242.7 150.0L245.8 161.6M248.9 149.6L251.9 161.3M255.0 149.1L258.0 161.0M261.1 148.7L264.2 160.6M267.2 148.3L270.2 159.9" fill="none" stroke="#8a8a8a" stroke-width="1.53" stroke-linecap="round"/>
<path d="M160.0 166.2L163.0 155.4M166.1 165.8L169.1 155.0M172.2 165.5L175.3 154.6M178.3 165.2L181.4 154.2M184.5 164.9L187.5 153.7M190.6 164.5L193.7 153.3M196.7 164.2L199.8 152.9M202.9 163.9L205.9 152.5M209.0 163.6L212.1 152.1M215.1 163.2L218.2 151.7M221.3 162.9L224.3 151.2M227.4 162.6L230.5 150.8M233.5 162.3L236.6 150.4M239.7 161.9L242.7 150.0M245.8 161.6L248.9 149.6M251.9 161.3L255.0 149.1M258.0 161.0L261.1 148.7M264.2 160.6L267.2 148.3" fill="none" stroke="#4a4a4a" stroke-width="1.70" stroke-linecap="round"/>
<path d="M157.5 152.9L160.3 165.8M160.3 165.8L163.3 180.6M166.4 165.7L169.5 180.6M172.5 165.6L175.6 180.6M178.7 165.5L181.7 180.6M184.8 165.4L187.8 180.6M190.9 165.3L194.0 180.6M197.0 165.1L200.1 180.6M203.2 165.0L206.2 180.6M209.3 164.9L212.4 180.6M215.4 164.8L218.5 180.6M221.6 164.7L224.6 180.6M227.7 164.6L230.8 180.6M233.8 164.5L236.9 180.6M240.0 164.4L243.0 180.6M246.1 164.3L249.2 180.6M252.2 164.1L255.3 180.6M258.4 164.0L261.4 180.6M264.5 163.9L267.5 180.6" fill="none" stroke="#ff9a9a" stroke-width="1.53" stroke-linecap="round"/>
<path d="M163.3 180.6L166.4 165.7M169.5 180.6L172.5 165.6M175.6 180.6L178.7 165.5M181.7 180.6L184.8 165.4M187.8 180.6L190.9 165.3M194.0 180.6L197.0 165.1M200.1 180.6L203.2 165.0M206.2 180.6L209.3 164.9M212.4 180.6L215.4 164.8M218.5 180.6L221.6 164.7M224.6 180.6L227.7 164.6M230.8 180.6L233.8 164.5M236.9 180.6L240.0 164.4M243.0 180.6L246.1 164.3M249.2 180.6L252.2 164.1M255.3 180.6L258.4 164.0M261.4 180.6L264.5 163.9M267.5 180.6L270.2 166.1" fill="none" stroke="#ff2a2a" stroke-width="1.70" stroke-linecap="round"/>
<path d="M157.5 152.9L160.3 171.5M160.3 171.5L163.3 184.8M166.4 171.5L169.5 185.1M172.5 171.5L175.6 185.4M178.7 171.5L181.7 185.7M184.8 171.5L187.8 186.0M190.9 171.5L194.0 186.3M197.0 171.5L200.1 186.6M203.2 171.5L206.2 186.9M209.3 171.5L212.4 187.2M215.4 171.5L218.5 187.5M221.6 171.5L224.6 187.8M227.7 171.5L230.8 188.1M233.8 171.5L236.9 188.4M240.0 171.5L243.0 188.7M246.1 171.5L249.2 189.0M252.2 171.5L255.3 189.3M258.4 171.5L261.4 189.6M264.5 171.5L267.5 189.9" fill="none" stroke="#ffbf88" stroke-width="1.53" stroke-linecap="round"/>
<path d="M163.3 184.8L166.4 171.5M169.5 185.1L172.5 171.5M175.6 185.4L178.7 171.5M181.7 185.7L184.8 171.5M187.8 186.0L190.9 171.5M194.0 186.3L197.0 171.5M200.1 186.6L203.2 171.5M206.2 186.9L209.3 171.5M212.4 187.2L215.4 171.5M218.5 187.5L221.6 171.5M224.6 187.8L227.7 171.5M230.8 188.1L233.8 171.5M236.9 188.4L240.0 171.5M243.0 188.7L246.1 171.5M249.2 189.0L252.2 171.5M255.3 189.3L258.4 171.5M261.4 189.6L264.5 171.5M267.5 189.9L270.2 174.0" fill="none" stroke="#ff8a30" stroke-width="1.70" stroke-linecap="round"/>
<path d="M157.5 152.9L161.7 193.1M164.8 179.2L167.9 193.3M170.9 179.5L174.0 193.5M177.1 179.8L180.1 193.7M183.2 180.1L186.3 193.9M189.3 180.5L192.4 194.1M195.5 180.8L198.5 194.3M201.6 181.1L204.6 194.5M207.7 181.4L210.8 194.7M213.8 181.7L216.9 194.9M220.0 182.0L223.0 195.1M226.1 182.4L229.2 195.3M232.2 182.7L235.3 195.5M238.4 183.0L241.4 195.7M244.5 183.3L247.6 195.9M250.6 183.6L253.7 196.1M256.8 183.9L259.8 196.3M262.9 184.3L266.0 196.5M269.0 184.6L270.2 189.2" fill="none" stroke="#60d060" stroke-width="1.53" stroke-linecap="round"/>
<path d="M161.7 193.1L164.8 179.2M167.9 193.3L170.9 179.5M174.0 193.5L177.1 179.8M180.1 193.7L183.2 180.1M186.3 193.9L189.3 180.5M192.4 194.1L195.5 180.8M198.5 194.3L201.6 181.1M204.6 194.5L207.7 181.4M210.8 194.7L213.8 181.7M216.9 194.9L220.0 182.0M223.0 195.1L226.1 182.4M229.2 195.3L232.2 182.7M235.3 195.5L238.4 183.0M241.4 195.7L244.5 183.3M247.6 195.9L250.6 183.6M253.7 196.1L256.8 183.9M259.8 196.3L262.9 184.3M266.0 196.5L269.0 184.6" fill="none" stroke="#18b818" stroke-width="1.70" stroke-linecap="round"/>
<path d="M157.5 152.9L162.2 204.5M165.3 191.0L168.4 204.7M171.4 191.3L174.5 204.9M177.5 191.5L180.6 205.1M183.7 191.7L186.7 205.3M189.8 191.9L192.9 205.5M195.9 192.1L199.0 205.8M202.1 192.3L205.1 206.0M208.2 192.5L211.3 206.2M214.3 192.8L217.4 206.4M220.5 193.0L223.5 206.6M226.6 193.2L229.7 206.8M232.7 193.4L235.8 207.0M238.9 193.6L241.9 207.3M245.0 193.8L248.1 207.5M251.1 194.0L254.2 207.7M257.2 194.2L260.3 207.9M263.4 194.5L266.4 208.1M269.5 194.7L270.2 197.7" fill="none" stroke="#5a5aff" stroke-width="1.91" stroke-linecap="round"/>
<path d="M162.2 204.5L165.3 191.0M168.4 204.7L171.4 191.3M174.5 204.9L177.5 191.5M180.6 205.1L183.7 191.7M186.7 205.3L189.8 191.9M192.9 205.5L195.9 192.1M199.0 205.8L202.1 192.3M205.1 206.0L208.2 192.5M211.3 206.2L214.3 192.8M217.4 206.4L220.5 193.0M223.5 206.6L226.6 193.2M229.7 206.8L232.7 193.4M235.8 207.0L238.9 193.6M241.9 207.3L245.0 193.8M248.1 207.5L251.1 194.0M254.2 207.7L257.2 194.2M260.3 207.9L263.4 194.5M266.4 208.1L269.5 194.7" fill="none" stroke="#1a1aff" stroke-width="2.12" stroke-linecap="round"/>
</g>
<rect x="157.5" y="139.5" width="112.7" height="93.8" fill="none" stroke="#858585" stroke-width="1.3"/>
<path d="M157.5 233.3v-1.8M157.5 139.5v1.8M180.0 233.3v-1.8M180.0 139.5v1.8M202.6 233.3v-1.8M202.6 139.5v1.8M225.1 233.3v-1.8M225.1 139.5v1.8M247.7 233.3v-1.8M247.7 139.5v1.8M270.2 233.3v-1.8M270.2 139.5v1.8M157.5 233.3h1.8M270.2 233.3h-1.8M157.5 219.9h1.8M270.2 219.9h-1.8M157.5 206.5h1.8M270.2 206.5h-1.8M157.5 193.1h1.8M270.2 193.1h-1.8M157.5 179.7h1.8M270.2 179.7h-1.8M157.5 166.3h1.8M270.2 166.3h-1.8M157.5 152.9h1.8M270.2 152.9h-1.8M157.5 139.5h1.8M270.2 139.5h-1.8" stroke="#303030" stroke-width="1"/>
<text x="155.5" y="235.3" text-anchor="end" class="tk">-12</text>
<text x="155.5" y="221.9" text-anchor="end" class="tk">-10</text>
<text x="155.5" y="208.5" text-anchor="end" class="tk">-8</text>
<text x="155.5" y="195.1" text-anchor="end" class="tk">-6</text>
<text x="155.5" y="181.7" text-anchor="end" class="tk">-4</text>
<text x="155.5" y="168.3" text-anchor="end" class="tk">-2</text>
<text x="155.5" y="154.9" text-anchor="end" class="tk">0</text>
<text x="155.5" y="141.5" text-anchor="end" class="tk">2</text>
<text x="157.5" y="240.1" text-anchor="middle" class="tk">0</text>
<text x="180.0" y="240.1" text-anchor="middle" class="tk">10</text>
<text x="202.6" y="240.1" text-anchor="middle" class="tk">20</text>
<text x="225.1" y="240.1" text-anchor="middle" class="tk">30</text>
<text x="247.7" y="240.1" text-anchor="middle" class="tk">40</text>
<text x="270.2" y="240.1" text-anchor="middle" class="tk">50</text>
<rect x="196.4" y="211.6" width="66.2" height="18.1" fill="#fff" stroke="#9a9a9a" stroke-width="0.7"/>
<path d="M262.9 212.6V230.0H197.4" fill="none" stroke="#111" stroke-width="1.4"/>
<path d="M198.7 214.5h3.5" stroke="#1a1a1a" stroke-width="0.9" stroke-dasharray="1.2 0.6" opacity="0.7"/>
<text x="202.5" y="215.7" class="lg" font-size="3.55"><tspan font-style="italic">I</tspan><tspan class="lsub" dy="0.7">amp</tspan><tspan dy="-0.7">1A,</tspan>β45°,Map</text>
<path d="M232.7 214.5h3.5" stroke="#ff1a1a" stroke-width="0.9" stroke-dasharray="1.2 0.6" opacity="0.7"/>
<text x="236.0" y="215.7" class="lg" font-size="3.55"><tspan font-style="italic">I</tspan><tspan class="lsub" dy="0.7">amp</tspan><tspan dy="-0.7">4A,</tspan>β45°,Map</text>
<path d="M198.7 220.2h3.5" stroke="#ff8000" stroke-width="0.9" stroke-dasharray="1.2 0.6" opacity="0.7"/>
<text x="202.5" y="221.4" class="lg" font-size="3.55"><tspan font-style="italic">I</tspan><tspan class="lsub" dy="0.7">amp</tspan><tspan dy="-0.7">6A,</tspan>β45°,Map</text>
<path d="M232.7 220.2h3.5" stroke="#00c000" stroke-width="0.9" stroke-dasharray="1.2 0.6" opacity="0.7"/>
<text x="236.0" y="221.4" class="lg" font-size="3.55"><tspan font-style="italic">I</tspan><tspan class="lsub" dy="0.7">amp</tspan><tspan dy="-0.7">8A,</tspan>β45°,Map</text>
<path d="M198.7 226.0h3.5" stroke="#0000ff" stroke-width="0.9" stroke-dasharray="1.2 0.6" opacity="0.7"/>
<text x="202.5" y="227.2" class="lg" font-size="3.55"><tspan font-style="italic">I</tspan><tspan class="lsub" dy="0.7">amp</tspan><tspan dy="-0.7">10A,</tspan>β45°,Map</text>
<text x="214.5" y="247.4" text-anchor="middle" class="xl">Time (ms)</text>
<text x="215.6" y="259.4" text-anchor="middle" class="cap">(f) <tspan font-style="italic">I</tspan><tspan class="sub" font-style="italic" dy="2">d</tspan><tspan dy="-2"> profile </tspan><tspan font-family="Liberation Serif" font-style="italic" font-size="10.5">β</tspan><tspan font-size="5"> </tspan>45, Map</text>
<clipPath id="c247"><rect x="301.0" y="136.6" width="112.5" height="97.6"/></clipPath>
<g clip-path="url(#c247)">
<polyline points="301.0,234.2 302.8,233.8 305.9,232.1 309.0,233.8 312.2,232.0 315.3,233.7 318.5,231.9 321.6,233.6 324.7,231.8 327.9,233.5 331.0,231.7 334.1,233.3 337.3,231.5 340.4,233.2 343.6,231.4 346.7,233.1 349.8,231.3 353.0,233.0 356.1,231.2 359.3,232.8 362.4,231.0 365.5,232.7 368.7,230.9 371.8,232.6 374.9,230.8 378.1,232.5 381.2,230.7 384.4,232.3 387.5,230.5 390.6,232.2 393.8,230.4 396.9,232.1 400.1,230.3 403.2,232.0 406.3,230.2 409.5,231.8 412.6,230.0 413.5,230.5" fill="none" stroke="#1a1a1a" stroke-width="2.3" stroke-linejoin="miter" stroke-miterlimit="4"/>
<polyline points="301.0,234.2 305.9,217.9 309.0,221.5 312.2,217.8 315.3,221.3 318.5,217.7 321.6,221.1 324.7,217.6 327.9,220.9 331.0,217.5 334.1,220.7 337.3,217.3 340.4,220.5 343.6,217.2 346.7,220.3 349.8,217.1 353.0,220.1 356.1,217.0 359.3,219.9 362.4,216.8 365.5,219.7 368.7,216.7 371.8,219.5 374.9,216.6 378.1,219.3 381.2,216.5 384.4,219.1 387.5,216.3 390.6,218.9 393.8,216.2 396.9,218.7 400.1,216.1 403.2,218.5 406.3,216.0 409.5,218.3 412.6,215.8 413.5,216.5" fill="none" stroke="#ff1a1a" stroke-width="2.3" stroke-linejoin="miter" stroke-miterlimit="4"/>
<polyline points="301.0,234.2 305.9,202.9 309.0,207.6 312.2,202.9 315.3,207.4 318.5,202.7 321.6,207.2 324.7,202.6 327.9,206.9 331.0,202.5 334.1,206.6 337.3,202.4 340.4,206.4 343.6,202.2 346.7,206.1 349.8,202.1 353.0,205.9 356.1,202.0 359.3,205.6 362.4,201.9 365.5,205.4 368.7,201.7 371.8,205.1 374.9,201.6 378.1,204.8 381.2,201.5 384.4,204.6 387.5,201.4 390.6,204.3 393.8,201.2 396.9,204.1 400.1,201.1 403.2,203.8 406.3,201.0 409.5,203.5 412.6,200.9 413.5,201.6" fill="none" stroke="#ff8000" stroke-width="2.3" stroke-linejoin="miter" stroke-miterlimit="4"/>
<polyline points="301.0,234.2 305.9,186.0 309.0,190.8 312.2,186.0 315.3,190.7 318.5,185.8 321.6,190.5 324.7,185.7 327.9,190.4 331.0,185.6 334.1,190.3 337.3,185.4 340.4,190.1 343.6,185.3 346.7,190.0 349.8,185.2 353.0,189.9 356.1,185.0 359.3,189.7 362.4,184.9 365.5,189.6 368.7,184.8 371.8,189.4 374.9,184.6 378.1,189.3 381.2,184.5 384.4,189.2 387.5,184.4 390.6,189.0 393.8,184.2 396.9,188.9 400.1,184.1 403.2,188.8 406.3,184.0 409.5,188.6 412.6,183.8 413.5,185.2" fill="none" stroke="#00c000" stroke-width="2.3" stroke-linejoin="miter" stroke-miterlimit="4"/>
<polyline points="301.0,234.2 305.9,163.6 309.0,172.8 312.2,163.6 315.3,172.7 318.5,163.6 321.6,172.5 324.7,163.6 327.9,172.4 331.0,163.6 334.1,172.2 337.3,163.6 340.4,172.1 343.6,163.6 346.7,172.0 349.8,163.6 353.0,171.8 356.1,163.6 359.3,171.7 362.4,163.6 365.5,171.5 368.7,163.6 371.8,171.4 374.9,163.6 378.1,171.2 381.2,163.6 384.4,171.1 387.5,163.6 390.6,171.0 393.8,163.6 396.9,170.8 400.1,163.6 403.2,170.7 406.3,163.6 409.5,170.5 412.6,163.6 413.5,165.6" fill="none" stroke="#0000ff" stroke-width="2.3" stroke-linejoin="miter" stroke-miterlimit="4"/>
</g>
<rect x="301.0" y="139.6" width="112.5" height="94.6" fill="none" stroke="#858585" stroke-width="1.3"/>
<path d="M301.0 234.2v-1.8M301.0 139.6v1.8M330.2 234.2v-1.8M330.2 139.6v1.8M359.5 234.2v-1.8M359.5 139.6v1.8M388.8 234.2v-1.8M388.8 139.6v1.8M301.0 234.2h1.8M413.5 234.2h-1.8M301.0 218.4h1.8M413.5 218.4h-1.8M301.0 202.7h1.8M413.5 202.7h-1.8M301.0 186.9h1.8M413.5 186.9h-1.8M301.0 171.1h1.8M413.5 171.1h-1.8M301.0 155.4h1.8M413.5 155.4h-1.8M301.0 139.6h1.8M413.5 139.6h-1.8" stroke="#303030" stroke-width="1"/>
<text x="299.0" y="236.2" text-anchor="end" class="tk">0</text>
<text x="299.0" y="220.4" text-anchor="end" class="tk">1</text>
<text x="299.0" y="204.7" text-anchor="end" class="tk">2</text>
<text x="299.0" y="188.9" text-anchor="end" class="tk">3</text>
<text x="299.0" y="173.1" text-anchor="end" class="tk">4</text>
<text x="299.0" y="157.4" text-anchor="end" class="tk">5</text>
<text x="299.0" y="141.6" text-anchor="end" class="tk">6</text>
<text x="301.0" y="241.0" text-anchor="middle" class="tk">0</text>
<text x="330.2" y="241.0" text-anchor="middle" class="tk">13</text>
<text x="359.5" y="241.0" text-anchor="middle" class="tk">26</text>
<text x="388.8" y="241.0" text-anchor="middle" class="tk">39</text>
<rect x="334.5" y="142.8" width="75.1" height="17.2" fill="#fff" stroke="#9a9a9a" stroke-width="0.7"/>
<path d="M409.9 143.8V160.3H335.5" fill="none" stroke="#111" stroke-width="1.4"/>
<path d="M337.0 145.7h3.5" stroke="#1a1a1a" stroke-width="0.9" stroke-dasharray="1.2 0.6" opacity="0.7"/>
<text x="340.5" y="146.9" class="lg" font-size="3.55"><tspan font-style="italic">I</tspan><tspan class="lsub" dy="0.7">amp</tspan><tspan dy="-0.7">1A,</tspan>β45°,noMap</text>
<path d="M375.0 145.7h3.5" stroke="#ff1a1a" stroke-width="0.9" stroke-dasharray="1.2 0.6" opacity="0.7"/>
<text x="378.0" y="146.9" class="lg" font-size="3.55"><tspan font-style="italic">I</tspan><tspan class="lsub" dy="0.7">amp</tspan><tspan dy="-0.7">4A,</tspan>β45°,noMap</text>
<path d="M337.0 151.4h3.5" stroke="#ff8000" stroke-width="0.9" stroke-dasharray="1.2 0.6" opacity="0.7"/>
<text x="340.5" y="152.6" class="lg" font-size="3.55"><tspan font-style="italic">I</tspan><tspan class="lsub" dy="0.7">amp</tspan><tspan dy="-0.7">6A,</tspan>β45°,noMap</text>
<path d="M375.0 151.4h3.5" stroke="#00c000" stroke-width="0.9" stroke-dasharray="1.2 0.6" opacity="0.7"/>
<text x="378.0" y="152.6" class="lg" font-size="3.55"><tspan font-style="italic">I</tspan><tspan class="lsub" dy="0.7">amp</tspan><tspan dy="-0.7">8A,</tspan>β45°,noMap</text>
<path d="M337.0 156.9h3.5" stroke="#0000ff" stroke-width="0.9" stroke-dasharray="1.2 0.6" opacity="0.7"/>
<text x="340.5" y="158.1" class="lg" font-size="3.55"><tspan font-style="italic">I</tspan><tspan class="lsub" dy="0.7">amp</tspan><tspan dy="-0.7">10A,</tspan>β45°,noMap</text>
<text transform="translate(292.5,181.0) rotate(-90)" text-anchor="middle" class="yl">Torque, <tspan font-style="italic">T</tspan><tspan font-size="5" dy="1.3" font-style="italic">ave</tspan><tspan dy="-1.3"> (Nm)</tspan></text>
<text x="357.8" y="247.1" text-anchor="middle" class="xl">Time (ms)</text>
<text x="354.0" y="258.6" text-anchor="middle" class="cap">(g) <tspan font-style="italic">T</tspan><tspan class="sub" font-style="italic" dy="2">ave</tspan><tspan dy="-2"> profile </tspan><tspan font-family="Liberation Serif" font-style="italic" font-size="10.5">β</tspan><tspan font-size="5"> </tspan>45, No Map</text>
<clipPath id="c283"><rect x="426.1" y="136.5" width="112.29999999999995" height="97.5"/></clipPath>
<g clip-path="url(#c283)">
<polyline points="426.1,234.0 427.8,233.9 430.9,232.2 434.1,233.9 437.2,232.1 440.3,233.8 443.5,232.0 446.6,233.7 449.7,231.9 452.9,233.5 456.0,231.7 459.1,233.4 462.3,231.6 465.4,233.3 468.5,231.5 471.7,233.1 474.8,231.3 477.9,233.0 481.1,231.2 484.2,232.9 487.3,231.1 490.5,232.7 493.6,230.9 496.7,232.6 499.9,230.8 503.0,232.5 506.1,230.7 509.3,232.3 512.4,230.5 515.5,232.2 518.7,230.4 521.8,232.1 524.9,230.3 528.1,231.9 531.2,230.1 534.3,231.8 537.5,230.0 538.4,230.5" fill="none" stroke="#1a1a1a" stroke-width="2.3" stroke-linejoin="miter" stroke-miterlimit="4"/>
<polyline points="426.1,234.0 430.9,219.9 434.1,222.6 437.2,219.8 440.3,222.4 443.5,219.6 446.6,222.1 449.7,219.3 452.9,221.8 456.0,219.1 459.1,221.6 462.3,218.8 465.4,221.3 468.5,218.6 471.7,221.0 474.8,218.3 477.9,220.8 481.1,218.1 484.2,220.5 487.3,217.8 490.5,220.2 493.6,217.6 496.7,220.0 499.9,217.3 503.0,219.7 506.1,217.1 509.3,219.4 512.4,216.8 515.5,219.2 518.7,216.6 521.8,218.9 524.9,216.3 528.1,218.6 531.2,216.1 534.3,218.3 537.5,215.8 538.4,216.5" fill="none" stroke="#ff1a1a" stroke-width="2.3" stroke-linejoin="miter" stroke-miterlimit="4"/>
<polyline points="426.1,234.0 430.9,207.3 434.1,210.8 437.2,207.2 440.3,210.5 443.5,206.9 446.6,210.2 449.7,206.5 452.9,209.9 456.0,206.2 459.1,209.6 462.3,205.9 465.4,209.2 468.5,205.5 471.7,208.9 474.8,205.2 477.9,208.6 481.1,204.8 484.2,208.3 487.3,204.5 490.5,208.0 493.6,204.2 496.7,207.7 499.9,203.8 503.0,207.4 506.1,203.5 509.3,207.0 512.4,203.2 515.5,206.7 518.7,202.8 521.8,206.4 524.9,202.5 528.1,206.1 531.2,202.2 534.3,205.8 537.5,201.8 538.4,203.0" fill="none" stroke="#ff8000" stroke-width="2.3" stroke-linejoin="miter" stroke-miterlimit="4"/>
<polyline points="426.1,234.0 430.9,193.4 434.1,197.1 437.2,193.3 440.3,196.9 443.5,193.0 446.6,196.7 449.7,192.7 452.9,196.5 456.0,192.4 459.1,196.3 462.3,192.0 465.4,196.1 468.5,191.7 471.7,195.9 474.8,191.4 477.9,195.7 481.1,191.1 484.2,195.5 487.3,190.7 490.5,195.3 493.6,190.4 496.7,195.1 499.9,190.1 503.0,194.9 506.1,189.8 509.3,194.7 512.4,189.4 515.5,194.5 518.7,189.1 521.8,194.3 524.9,188.8 528.1,194.1 531.2,188.5 534.3,193.9 537.5,188.1 538.4,189.8" fill="none" stroke="#00c000" stroke-width="2.3" stroke-linejoin="miter" stroke-miterlimit="4"/>
<polyline points="426.1,234.0 430.9,179.4 434.1,184.2 437.2,179.3 440.3,183.9 443.5,178.8 446.6,183.7 449.7,178.4 452.9,183.5 456.0,178.0 459.1,183.2 462.3,177.5 465.4,183.0 468.5,177.1 471.7,182.7 474.8,176.6 477.9,182.5 481.1,176.2 484.2,182.2 487.3,175.8 490.5,182.0 493.6,175.3 496.7,181.7 499.9,174.9 503.0,181.5 506.1,174.4 509.3,181.2 512.4,174.0 515.5,181.0 518.7,173.6 521.8,180.7 524.9,173.1 528.1,180.5 531.2,172.7 534.3,180.2 537.5,172.2 538.4,174.6" fill="none" stroke="#0000ff" stroke-width="2.3" stroke-linejoin="miter" stroke-miterlimit="4"/>
</g>
<rect x="426.1" y="139.5" width="112.3" height="94.5" fill="none" stroke="#858585" stroke-width="1.3"/>
<path d="M426.1 234.0v-1.8M426.1 139.5v1.8M448.6 234.0v-1.8M448.6 139.5v1.8M471.0 234.0v-1.8M471.0 139.5v1.8M493.5 234.0v-1.8M493.5 139.5v1.8M515.9 234.0v-1.8M515.9 139.5v1.8M538.4 234.0v-1.8M538.4 139.5v1.8M426.1 234.0h1.8M538.4 234.0h-1.8M426.1 218.2h1.8M538.4 218.2h-1.8M426.1 202.5h1.8M538.4 202.5h-1.8M426.1 186.8h1.8M538.4 186.8h-1.8M426.1 171.0h1.8M538.4 171.0h-1.8M426.1 155.2h1.8M538.4 155.2h-1.8M426.1 139.5h1.8M538.4 139.5h-1.8" stroke="#303030" stroke-width="1"/>
<text x="424.1" y="236.0" text-anchor="end" class="tk">0</text>
<text x="424.1" y="220.2" text-anchor="end" class="tk">1</text>
<text x="424.1" y="204.5" text-anchor="end" class="tk">2</text>
<text x="424.1" y="188.8" text-anchor="end" class="tk">3</text>
<text x="424.1" y="173.0" text-anchor="end" class="tk">4</text>
<text x="424.1" y="157.2" text-anchor="end" class="tk">5</text>
<text x="424.1" y="141.5" text-anchor="end" class="tk">6</text>
<text x="426.1" y="240.8" text-anchor="middle" class="tk">0</text>
<text x="448.6" y="240.8" text-anchor="middle" class="tk">10</text>
<text x="471.0" y="240.8" text-anchor="middle" class="tk">20</text>
<text x="493.5" y="240.8" text-anchor="middle" class="tk">30</text>
<text x="515.9" y="240.8" text-anchor="middle" class="tk">40</text>
<text x="538.4" y="240.8" text-anchor="middle" class="tk">50</text>
<rect x="465.1" y="146.5" width="66.5" height="17.6" fill="#fff" stroke="#9a9a9a" stroke-width="0.7"/>
<path d="M531.9 147.5V164.4H466.1" fill="none" stroke="#111" stroke-width="1.4"/>
<path d="M467.3 149.4h3.5" stroke="#1a1a1a" stroke-width="0.9" stroke-dasharray="1.2 0.6" opacity="0.7"/>
<text x="471.4" y="150.6" class="lg" font-size="3.55"><tspan font-style="italic">I</tspan><tspan class="lsub" dy="0.7">amp</tspan><tspan dy="-0.7">1A,</tspan>β45°,Map</text>
<path d="M501.6 149.4h3.5" stroke="#ff1a1a" stroke-width="0.9" stroke-dasharray="1.2 0.6" opacity="0.7"/>
<text x="505.0" y="150.6" class="lg" font-size="3.55"><tspan font-style="italic">I</tspan><tspan class="lsub" dy="0.7">amp</tspan><tspan dy="-0.7">4A,</tspan>β45°,Map</text>
<path d="M467.3 155.0h3.5" stroke="#ff8000" stroke-width="0.9" stroke-dasharray="1.2 0.6" opacity="0.7"/>
<text x="471.4" y="156.2" class="lg" font-size="3.55"><tspan font-style="italic">I</tspan><tspan class="lsub" dy="0.7">amp</tspan><tspan dy="-0.7">6A,</tspan>β45°,Map</text>
<path d="M501.6 155.0h3.5" stroke="#00c000" stroke-width="0.9" stroke-dasharray="1.2 0.6" opacity="0.7"/>
<text x="505.0" y="156.2" class="lg" font-size="3.55"><tspan font-style="italic">I</tspan><tspan class="lsub" dy="0.7">amp</tspan><tspan dy="-0.7">8A,</tspan>β45°,Map</text>
<path d="M467.3 160.7h3.5" stroke="#0000ff" stroke-width="0.9" stroke-dasharray="1.2 0.6" opacity="0.7"/>
<text x="471.4" y="161.9" class="lg" font-size="3.55"><tspan font-style="italic">I</tspan><tspan class="lsub" dy="0.7">amp</tspan><tspan dy="-0.7">10A,</tspan>β45°,Map</text>
<text x="482.0" y="247.1" text-anchor="middle" class="xl">Time (ms)</text>
<text x="479.5" y="258.0" text-anchor="middle" class="cap">(h) <tspan font-style="italic">T</tspan><tspan class="sub" font-style="italic" dy="2">ave</tspan><tspan dy="-2"> profile </tspan><tspan font-family="Liberation Serif" font-style="italic" font-size="10.5">β</tspan><tspan font-size="5"> </tspan>45, Map</text>
<clipPath id="c320"><rect x="28.4" y="265.5" width="113.1" height="97.5"/></clipPath>
<g clip-path="url(#c320)">
<path d="M28.4 282.0L31.9 292.3M35.0 280.4L38.0 291.8M41.1 279.8L44.2 291.3M47.2 279.3L50.3 290.8M53.3 278.8L56.4 290.3M59.4 278.2L62.5 289.7M65.5 277.7L68.6 289.2M71.6 277.2L74.7 288.7M77.7 276.6L80.8 288.2M83.9 276.1L86.9 287.7M90.0 275.6L93.0 287.2M96.1 275.1L99.1 286.7M102.2 274.5L105.2 286.1M108.3 274.0L111.3 285.6M114.4 273.5L117.4 285.1M120.5 272.9L123.6 284.6M126.6 272.4L129.7 284.1M132.7 271.9L135.8 283.6M138.8 271.3L141.5 281.6" fill="none" stroke="#8a8a8a" stroke-width="1.53" stroke-linecap="round"/>
<path d="M31.9 292.3L35.0 280.4M38.0 291.8L41.1 279.8M44.2 291.3L47.2 279.3M50.3 290.8L53.3 278.8M56.4 290.3L59.4 278.2M62.5 289.7L65.5 277.7M68.6 289.2L71.6 277.2M74.7 288.7L77.7 276.6M80.8 288.2L83.9 276.1M86.9 287.7L90.0 275.6M93.0 287.2L96.1 275.1M99.1 286.7L102.2 274.5M105.2 286.1L108.3 274.0M111.3 285.6L114.4 273.5M117.4 285.1L120.5 272.9M123.6 284.6L126.6 272.4M129.7 284.1L132.7 271.9M135.8 283.6L138.8 271.3" fill="none" stroke="#4a4a4a" stroke-width="1.70" stroke-linecap="round"/>
<path d="M28.4 282.0L31.5 288.9M31.5 288.9L34.5 302.9M37.6 288.5L40.6 302.6M43.7 288.1L46.7 302.2M49.8 287.7L52.8 301.9M55.9 287.3L58.9 301.6M62.0 286.9L65.0 301.3M68.1 286.5L71.2 301.0M74.2 286.1L77.3 300.7M80.3 285.6L83.4 300.4M86.4 285.2L89.5 300.1M92.5 284.8L95.6 299.8M98.6 284.4L101.7 299.5M104.7 284.0L107.8 299.2M110.8 283.6L113.9 298.8M117.0 283.2L120.0 298.5M123.1 282.8L126.1 298.2M129.2 282.3L132.2 297.9M135.3 281.9L138.3 297.6M141.4 281.5L141.5 282.1" fill="none" stroke="#ff9a9a" stroke-width="1.53" stroke-linecap="round"/>
<path d="M34.5 302.9L37.6 288.5M40.6 302.6L43.7 288.1M46.7 302.2L49.8 287.7M52.8 301.9L55.9 287.3M58.9 301.6L62.0 286.9M65.0 301.3L68.1 286.5M71.2 301.0L74.2 286.1M77.3 300.7L80.3 285.6M83.4 300.4L86.4 285.2M89.5 300.1L92.5 284.8M95.6 299.8L98.6 284.4M101.7 299.5L104.7 284.0M107.8 299.2L110.8 283.6M113.9 298.8L117.0 283.2M120.0 298.5L123.1 282.8M126.1 298.2L129.2 282.3M132.2 297.9L135.3 281.9M138.3 297.6L141.4 281.5" fill="none" stroke="#ff2a2a" stroke-width="1.70" stroke-linecap="round"/>
<path d="M28.4 282.0L33.3 313.2M36.3 296.0L39.4 312.8M42.4 295.5L45.5 312.4M48.6 295.0L51.6 312.0M54.7 294.5L57.7 311.5M60.8 294.0L63.8 311.1M66.9 293.5L69.9 310.7M73.0 293.0L76.0 310.3M79.1 292.5L82.1 309.9M85.2 292.0L88.3 309.5M91.3 291.5L94.4 309.1M97.4 291.0L100.5 308.7M103.5 290.4L106.6 308.2M109.6 289.9L112.7 307.8M115.7 289.4L118.8 307.4M121.8 288.9L124.9 307.0M128.0 288.4L131.0 306.6M134.1 287.9L137.1 306.2M140.2 287.4L141.5 295.4" fill="none" stroke="#ffbf88" stroke-width="1.53" stroke-linecap="round"/>
<path d="M33.3 313.2L36.3 296.0M39.4 312.8L42.4 295.5M45.5 312.4L48.6 295.0M51.6 312.0L54.7 294.5M57.7 311.5L60.8 294.0M63.8 311.1L66.9 293.5M69.9 310.7L73.0 293.0M76.0 310.3L79.1 292.5M82.1 309.9L85.2 292.0M88.3 309.5L91.3 291.5M94.4 309.1L97.4 291.0M100.5 308.7L103.5 290.4M106.6 308.2L109.6 289.9M112.7 307.8L115.7 289.4M118.8 307.4L121.8 288.9M124.9 307.0L128.0 288.4M131.0 306.6L134.1 287.9M137.1 306.2L140.2 287.4" fill="none" stroke="#ff8a30" stroke-width="1.70" stroke-linecap="round"/>
<path d="M28.4 282.0L31.9 324.9M35.0 309.6L38.0 324.3M41.1 309.1L44.2 323.6M47.2 308.6L50.3 323.0M53.3 308.1L56.4 322.4M59.4 307.5L62.5 321.7M65.5 307.0L68.6 321.1M71.6 306.5L74.7 320.4M77.7 306.0L80.8 319.8M83.9 305.4L86.9 319.2M90.0 304.9L93.0 318.5M96.1 304.4L99.1 317.9M102.2 303.9L105.2 317.3M108.3 303.4L111.3 316.6M114.4 302.8L117.4 316.0M120.5 302.3L123.6 315.4M126.6 301.8L129.7 314.7M132.7 301.3L135.8 314.1M138.8 300.7L141.5 311.9" fill="none" stroke="#60d060" stroke-width="1.53" stroke-linecap="round"/>
<path d="M31.9 324.9L35.0 309.6M38.0 324.3L41.1 309.1M44.2 323.6L47.2 308.6M50.3 323.0L53.3 308.1M56.4 322.4L59.4 307.5M62.5 321.7L65.5 307.0M68.6 321.1L71.6 306.5M74.7 320.4L77.7 306.0M80.8 319.8L83.9 305.4M86.9 319.2L90.0 304.9M93.0 318.5L96.1 304.4M99.1 317.9L102.2 303.9M105.2 317.3L108.3 303.4M111.3 316.6L114.4 302.8M117.4 316.0L120.5 302.3M123.6 315.4L126.6 301.8M129.7 314.7L132.7 301.3M135.8 314.1L138.8 300.7" fill="none" stroke="#18b818" stroke-width="1.70" stroke-linecap="round"/>
<path d="M28.4 282.0L38.5 341.1M41.5 326.9L44.6 339.3M47.6 324.8L50.7 338.0M53.7 323.2L56.8 337.1M59.9 321.9L62.9 336.2M66.0 321.1L69.0 335.6M72.1 320.4L75.1 335.1M78.2 319.9L81.2 334.7M84.3 319.5L87.3 334.4M90.4 319.2L93.4 334.3M96.5 318.9L99.6 334.1M102.6 318.7L105.7 334.0M108.7 318.5L111.8 334.0M114.8 318.4L117.9 333.9M120.9 318.4L124.0 333.8M127.0 318.3L130.1 333.8M133.1 318.3L136.2 333.7M139.2 318.2L141.5 329.6" fill="none" stroke="#5a5aff" stroke-width="1.91" stroke-linecap="round"/>
<path d="M38.5 341.1L41.5 326.9M44.6 339.3L47.6 324.8M50.7 338.0L53.7 323.2M56.8 337.1L59.9 321.9M62.9 336.2L66.0 321.1M69.0 335.6L72.1 320.4M75.1 335.1L78.2 319.9M81.2 334.7L84.3 319.5M87.3 334.4L90.4 319.2M93.4 334.3L96.5 318.9M99.6 334.1L102.6 318.7M105.7 334.0L108.7 318.5M111.8 334.0L114.8 318.4M117.9 333.9L120.9 318.4M124.0 333.8L127.0 318.3M130.1 333.8L133.1 318.3M136.2 333.7L139.2 318.2" fill="none" stroke="#1a1aff" stroke-width="2.12" stroke-linecap="round"/>
</g>
<rect x="28.4" y="268.5" width="113.1" height="94.5" fill="none" stroke="#858585" stroke-width="1.3"/>
<path d="M28.4 363.0v-1.8M28.4 268.5v1.8M51.0 363.0v-1.8M51.0 268.5v1.8M73.6 363.0v-1.8M73.6 268.5v1.8M96.3 363.0v-1.8M96.3 268.5v1.8M118.9 363.0v-1.8M118.9 268.5v1.8M141.5 363.0v-1.8M141.5 268.5v1.8M28.4 363.0h1.8M141.5 363.0h-1.8M28.4 349.5h1.8M141.5 349.5h-1.8M28.4 336.0h1.8M141.5 336.0h-1.8M28.4 322.5h1.8M141.5 322.5h-1.8M28.4 309.0h1.8M141.5 309.0h-1.8M28.4 295.5h1.8M141.5 295.5h-1.8M28.4 282.0h1.8M141.5 282.0h-1.8M28.4 268.5h1.8M141.5 268.5h-1.8" stroke="#303030" stroke-width="1"/>
<text x="26.4" y="365.0" text-anchor="end" class="tk">-12</text>
<text x="26.4" y="351.5" text-anchor="end" class="tk">-10</text>
<text x="26.4" y="338.0" text-anchor="end" class="tk">-8</text>
<text x="26.4" y="324.5" text-anchor="end" class="tk">-6</text>
<text x="26.4" y="311.0" text-anchor="end" class="tk">-4</text>
<text x="26.4" y="297.5" text-anchor="end" class="tk">-2</text>
<text x="26.4" y="284.0" text-anchor="end" class="tk">0</text>
<text x="26.4" y="270.5" text-anchor="end" class="tk">2</text>
<text x="28.4" y="369.8" text-anchor="middle" class="tk">0</text>
<text x="51.0" y="369.8" text-anchor="middle" class="tk">10</text>
<text x="73.6" y="369.8" text-anchor="middle" class="tk">20</text>
<text x="96.3" y="369.8" text-anchor="middle" class="tk">30</text>
<text x="118.9" y="369.8" text-anchor="middle" class="tk">40</text>
<text x="141.5" y="369.8" text-anchor="middle" class="tk">50</text>
<rect x="50.5" y="340.4" width="88.7" height="17.8" fill="#fff" stroke="#9a9a9a" stroke-width="0.7"/>
<path d="M139.5 341.4V358.5H51.5" fill="none" stroke="#111" stroke-width="1.4"/>
<path d="M53.2 343.1h3.5" stroke="#1a1a1a" stroke-width="0.9" stroke-dasharray="1.2 0.6" opacity="0.7"/>
<text x="56.8" y="344.3" class="lg" font-size="3.55"><tspan font-style="italic">I</tspan><tspan class="lsub" dy="0.7">amp</tspan><tspan dy="-0.7">1A,</tspan>β MTPA,NoMap</text>
<path d="M97.7 343.1h3.5" stroke="#ff1a1a" stroke-width="0.9" stroke-dasharray="1.2 0.6" opacity="0.7"/>
<text x="101.5" y="344.3" class="lg" font-size="3.55"><tspan font-style="italic">I</tspan><tspan class="lsub" dy="0.7">amp</tspan><tspan dy="-0.7">4A,</tspan>β MTPA,NoMap</text>
<path d="M53.2 348.5h3.5" stroke="#ff8000" stroke-width="0.9" stroke-dasharray="1.2 0.6" opacity="0.7"/>
<text x="56.8" y="349.7" class="lg" font-size="3.55"><tspan font-style="italic">I</tspan><tspan class="lsub" dy="0.7">amp</tspan><tspan dy="-0.7">6A,</tspan>β MTPA,NoMap</text>
<path d="M97.7 348.5h3.5" stroke="#00c000" stroke-width="0.9" stroke-dasharray="1.2 0.6" opacity="0.7"/>
<text x="101.5" y="349.7" class="lg" font-size="3.55"><tspan font-style="italic">I</tspan><tspan class="lsub" dy="0.7">amp</tspan><tspan dy="-0.7">8A,</tspan>β MTPA,NoMap</text>
<path d="M53.2 354.2h3.5" stroke="#0000ff" stroke-width="0.9" stroke-dasharray="1.2 0.6" opacity="0.7"/>
<text x="56.8" y="355.4" class="lg" font-size="3.55"><tspan font-style="italic">I</tspan><tspan class="lsub" dy="0.7">amp</tspan><tspan dy="-0.7">10A,</tspan>β MTPA,NoMap</text>
<text transform="translate(15.9,312.0) rotate(-90)" text-anchor="middle" class="yl">d-axis current, <tspan font-style="italic">I</tspan><tspan font-size="5" dy="1.3">d</tspan><tspan dy="-1.3"> (A)</tspan></text>
<text x="85.4" y="376.2" text-anchor="middle" class="xl">Time (ms)</text>
<text x="84.8" y="392.1" text-anchor="middle" class="cap">(i) <tspan font-style="italic">I</tspan><tspan class="sub" font-style="italic" dy="2">d</tspan><tspan dy="-2"> profile </tspan><tspan font-family="Liberation Serif" font-style="italic" font-size="10.5">β</tspan><tspan font-size="5"> </tspan>MTPA, No Map</text>
<clipPath id="c364"><rect x="157.5" y="266.2" width="112.5" height="97.10000000000002"/></clipPath>
<g clip-path="url(#c364)">
<path d="M157.5 282.6L160.0 292.0M163.1 279.8L166.2 291.5M169.3 279.4L172.3 290.9M175.4 278.9L178.5 290.4M181.6 278.5L184.7 289.9M187.8 278.1L190.9 289.4M194.0 277.7L197.1 288.9M200.2 277.2L203.3 288.4M206.4 276.8L209.5 287.8M212.6 276.4L215.7 287.3M218.8 276.0L221.8 286.8M224.9 275.5L228.0 286.3M231.1 275.1L234.2 285.8M237.3 274.7L240.4 285.3M243.5 274.3L246.6 284.8M249.7 273.8L252.8 284.2M255.9 273.4L259.0 283.7M262.1 273.0L265.2 283.2M268.3 272.6L270.0 278.3" fill="none" stroke="#8a8a8a" stroke-width="1.53" stroke-linecap="round"/>
<path d="M160.0 292.0L163.1 279.8M166.2 291.5L169.3 279.4M172.3 290.9L175.4 278.9M178.5 290.4L181.6 278.5M184.7 289.9L187.8 278.1M190.9 289.4L194.0 277.7M197.1 288.9L200.2 277.2M203.3 288.4L206.4 276.8M209.5 287.8L212.6 276.4M215.7 287.3L218.8 276.0M221.8 286.8L224.9 275.5M228.0 286.3L231.1 275.1M234.2 285.8L237.3 274.7M240.4 285.3L243.5 274.3M246.6 284.8L249.7 273.8M252.8 284.2L255.9 273.4M259.0 283.7L262.1 273.0M265.2 283.2L268.3 272.6" fill="none" stroke="#4a4a4a" stroke-width="1.70" stroke-linecap="round"/>
<path d="M157.5 282.6L160.4 287.4M160.4 287.4L163.5 301.0M166.6 287.1L169.7 300.8M172.8 286.8L175.9 300.6M179.0 286.4L182.1 300.4M185.2 286.1L188.3 300.2M191.3 285.8L194.4 300.0M197.5 285.5L200.6 299.8M203.7 285.2L206.8 299.6M209.9 284.8L213.0 299.4M216.1 284.5L219.2 299.2M222.3 284.2L225.4 299.0M228.5 283.9L231.6 298.8M234.7 283.5L237.8 298.6M240.8 283.2L243.9 298.4M247.0 282.9L250.1 298.2M253.2 282.6L256.3 298.0M259.4 282.3L262.5 297.8M265.6 281.9L268.7 297.6" fill="none" stroke="#ff9a9a" stroke-width="1.53" stroke-linecap="round"/>
<path d="M163.5 301.0L166.6 287.1M169.7 300.8L172.8 286.8M175.9 300.6L179.0 286.4M182.1 300.4L185.2 286.1M188.3 300.2L191.3 285.8M194.4 300.0L197.5 285.5M200.6 299.8L203.7 285.2M206.8 299.6L209.9 284.8M213.0 299.4L216.1 284.5M219.2 299.2L222.3 284.2M225.4 299.0L228.5 283.9M231.6 298.8L234.7 283.5M237.8 298.6L240.8 283.2M243.9 298.4L247.0 282.9M250.1 298.2L253.2 282.6M256.3 298.0L259.4 282.3M262.5 297.8L265.6 281.9M268.7 297.6L270.0 290.8" fill="none" stroke="#ff2a2a" stroke-width="1.70" stroke-linecap="round"/>
<path d="M157.5 282.6L162.1 307.7M165.2 292.5L168.3 307.8M171.4 292.4L174.5 307.9M177.6 292.3L180.7 308.1M183.8 292.2L186.9 308.2M190.0 292.1L193.1 308.3M196.2 292.0L199.3 308.4M202.4 291.9L205.5 308.5M208.5 291.8L211.6 308.6M214.7 291.7L217.8 308.7M220.9 291.6L224.0 308.8M227.1 291.5L230.2 308.9M233.3 291.4L236.4 309.0M239.5 291.3L242.6 309.1M245.7 291.2L248.8 309.2M251.9 291.0L255.0 309.3M258.0 290.9L261.1 309.4M264.2 290.8L267.3 309.5" fill="none" stroke="#ffbf88" stroke-width="1.53" stroke-linecap="round"/>
<path d="M162.1 307.7L165.2 292.5M168.3 307.8L171.4 292.4M174.5 307.9L177.6 292.3M180.7 308.1L183.8 292.2M186.9 308.2L190.0 292.1M193.1 308.3L196.2 292.0M199.3 308.4L202.4 291.9M205.5 308.5L208.5 291.8M211.6 308.6L214.7 291.7M217.8 308.7L220.9 291.6M224.0 308.8L227.1 291.5M230.2 308.9L233.3 291.4M236.4 309.0L239.5 291.3M242.6 309.1L245.7 291.2M248.8 309.2L251.9 291.0M255.0 309.3L258.0 290.9M261.1 309.4L264.2 290.8M267.3 309.5L270.0 293.3" fill="none" stroke="#ff8a30" stroke-width="1.70" stroke-linecap="round"/>
<path d="M157.5 282.6L160.9 317.9M164.0 303.0L167.1 317.7M170.2 302.9L173.3 317.4M176.4 302.8L179.5 317.2M182.6 302.7L185.7 317.0M188.7 302.6L191.8 316.8M194.9 302.5L198.0 316.6M201.1 302.4L204.2 316.3M207.3 302.3L210.4 316.1M213.5 302.2L216.6 315.9M219.7 302.1L222.8 315.7M225.9 302.0L229.0 315.5M232.1 301.9L235.2 315.3M238.2 301.8L241.3 315.0M244.4 301.7L247.5 314.8M250.6 301.6L253.7 314.6M256.8 301.5L259.9 314.4M263.0 301.3L266.1 314.2M269.2 301.2L270.0 304.6" fill="none" stroke="#60d060" stroke-width="1.53" stroke-linecap="round"/>
<path d="M160.9 317.9L164.0 303.0M167.1 317.7L170.2 302.9M173.3 317.4L176.4 302.8M179.5 317.2L182.6 302.7M185.7 317.0L188.7 302.6M191.8 316.8L194.9 302.5M198.0 316.6L201.1 302.4M204.2 316.3L207.3 302.3M210.4 316.1L213.5 302.2M216.6 315.9L219.7 302.1M222.8 315.7L225.9 302.0M229.0 315.5L232.1 301.9M235.2 315.3L238.2 301.8M241.3 315.0L244.4 301.7M247.5 314.8L250.6 301.6M253.7 314.6L256.8 301.5M259.9 314.4L263.0 301.3M266.1 314.2L269.2 301.2" fill="none" stroke="#18b818" stroke-width="1.70" stroke-linecap="round"/>
<path d="M157.5 282.6L161.3 319.3M163.5 315.7L166.6 330.9M169.7 315.7L172.8 330.9M175.9 315.7L179.0 330.9M182.1 315.7L185.2 330.9M188.3 315.7L191.3 330.9M194.4 315.7L197.5 330.9M200.6 315.7L203.7 330.9M206.8 315.7L209.9 330.9M213.0 315.7L216.1 330.9M219.2 315.7L222.3 330.9M225.4 315.7L228.5 330.9M231.6 315.7L234.7 330.9M237.8 315.7L240.8 330.9M243.9 315.7L247.0 330.9M250.1 315.7L253.2 330.9M256.3 315.7L259.4 330.9M262.5 315.7L265.6 330.9M268.7 315.7L270.0 322.2" fill="none" stroke="#5a5aff" stroke-width="1.91" stroke-linecap="round"/>
<path d="M161.3 319.3L163.5 315.7M166.6 330.9L169.7 315.7M172.8 330.9L175.9 315.7M179.0 330.9L182.1 315.7M185.2 330.9L188.3 315.7M191.3 330.9L194.4 315.7M197.5 330.9L200.6 315.7M203.7 330.9L206.8 315.7M209.9 330.9L213.0 315.7M216.1 330.9L219.2 315.7M222.3 330.9L225.4 315.7M228.5 330.9L231.6 315.7M234.7 330.9L237.8 315.7M240.8 330.9L243.9 315.7M247.0 330.9L250.1 315.7M253.2 330.9L256.3 315.7M259.4 330.9L262.5 315.7M265.6 330.9L268.7 315.7" fill="none" stroke="#1a1aff" stroke-width="2.12" stroke-linecap="round"/>
</g>
<rect x="157.5" y="269.2" width="112.5" height="94.1" fill="none" stroke="#858585" stroke-width="1.3"/>
<path d="M157.5 363.3v-1.8M157.5 269.2v1.8M180.0 363.3v-1.8M180.0 269.2v1.8M202.5 363.3v-1.8M202.5 269.2v1.8M225.0 363.3v-1.8M225.0 269.2v1.8M247.5 363.3v-1.8M247.5 269.2v1.8M270.0 363.3v-1.8M270.0 269.2v1.8M157.5 363.3h1.8M270.0 363.3h-1.8M157.5 349.9h1.8M270.0 349.9h-1.8M157.5 336.4h1.8M270.0 336.4h-1.8M157.5 323.0h1.8M270.0 323.0h-1.8M157.5 309.5h1.8M270.0 309.5h-1.8M157.5 296.1h1.8M270.0 296.1h-1.8M157.5 282.6h1.8M270.0 282.6h-1.8M157.5 269.2h1.8M270.0 269.2h-1.8" stroke="#303030" stroke-width="1"/>
<text x="155.5" y="365.3" text-anchor="end" class="tk">-12</text>
<text x="155.5" y="351.9" text-anchor="end" class="tk">-10</text>
<text x="155.5" y="338.4" text-anchor="end" class="tk">-8</text>
<text x="155.5" y="325.0" text-anchor="end" class="tk">-6</text>
<text x="155.5" y="311.5" text-anchor="end" class="tk">-4</text>
<text x="155.5" y="298.1" text-anchor="end" class="tk">-2</text>
<text x="155.5" y="284.6" text-anchor="end" class="tk">0</text>
<text x="155.5" y="271.2" text-anchor="end" class="tk">2</text>
<text x="157.5" y="370.1" text-anchor="middle" class="tk">0</text>
<text x="180.0" y="370.1" text-anchor="middle" class="tk">10</text>
<text x="202.5" y="370.1" text-anchor="middle" class="tk">20</text>
<text x="225.0" y="370.1" text-anchor="middle" class="tk">30</text>
<text x="247.5" y="370.1" text-anchor="middle" class="tk">40</text>
<text x="270.0" y="370.1" text-anchor="middle" class="tk">50</text>
<rect x="186.8" y="339.1" width="78.2" height="18.2" fill="#fff" stroke="#9a9a9a" stroke-width="0.7"/>
<path d="M265.3 340.1V357.6H187.8" fill="none" stroke="#111" stroke-width="1.4"/>
<path d="M189.5 342.4h3.5" stroke="#1a1a1a" stroke-width="0.9" stroke-dasharray="1.2 0.6" opacity="0.7"/>
<text x="193.0" y="343.6" class="lg" font-size="3.55"><tspan font-style="italic">I</tspan><tspan class="lsub" dy="0.7">amp</tspan><tspan dy="-0.7">1A,</tspan>β MTPA,Map</text>
<path d="M228.6 342.4h3.5" stroke="#ff1a1a" stroke-width="0.9" stroke-dasharray="1.2 0.6" opacity="0.7"/>
<text x="232.0" y="343.6" class="lg" font-size="3.55"><tspan font-style="italic">I</tspan><tspan class="lsub" dy="0.7">amp</tspan><tspan dy="-0.7">4A,</tspan>β MTPA,Map</text>
<path d="M189.5 347.8h3.5" stroke="#ff8000" stroke-width="0.9" stroke-dasharray="1.2 0.6" opacity="0.7"/>
<text x="193.0" y="349.0" class="lg" font-size="3.55"><tspan font-style="italic">I</tspan><tspan class="lsub" dy="0.7">amp</tspan><tspan dy="-0.7">6A,</tspan>β MTPA,Map</text>
<path d="M228.6 347.8h3.5" stroke="#00c000" stroke-width="0.9" stroke-dasharray="1.2 0.6" opacity="0.7"/>
<text x="232.0" y="349.0" class="lg" font-size="3.55"><tspan font-style="italic">I</tspan><tspan class="lsub" dy="0.7">amp</tspan><tspan dy="-0.7">8A,</tspan>β MTPA,Map</text>
<path d="M189.5 353.3h3.5" stroke="#0000ff" stroke-width="0.9" stroke-dasharray="1.2 0.6" opacity="0.7"/>
<text x="193.0" y="354.5" class="lg" font-size="3.55"><tspan font-style="italic">I</tspan><tspan class="lsub" dy="0.7">amp</tspan><tspan dy="-0.7">10A,</tspan>β MTPA,Map</text>
<text x="213.9" y="376.7" text-anchor="middle" class="xl">Time (ms)</text>
<text x="212.6" y="392.0" text-anchor="middle" class="cap">(j) <tspan font-style="italic">I</tspan><tspan class="sub" font-style="italic" dy="2">d</tspan><tspan dy="-2"> profile </tspan><tspan font-family="Liberation Serif" font-style="italic" font-size="10.5">β</tspan><tspan font-size="5"> </tspan>MTPA, Map</text>
<clipPath id="c407"><rect x="302.2" y="267.2" width="112.30000000000001" height="96.60000000000002"/></clipPath>
<g clip-path="url(#c407)">
<polyline points="302.2,363.8 304.4,363.7 307.4,362.0 310.4,363.7 313.4,362.0 316.5,363.6 319.5,361.8 322.5,363.5 325.5,361.7 328.5,363.4 331.6,361.6 334.6,363.3 337.6,361.5 340.6,363.1 343.6,361.4 346.7,363.0 349.7,361.3 352.7,362.9 355.7,361.1 358.8,362.8 361.8,361.0 364.8,362.7 367.8,360.9 370.8,362.5 373.9,360.8 376.9,362.4 379.9,360.7 382.9,362.3 385.9,360.5 389.0,362.2 392.0,360.4 395.0,362.1 398.0,360.3 401.0,362.0 404.1,360.2 407.1,361.8 410.1,360.1 413.1,361.7 414.5,360.9" fill="none" stroke="#1a1a1a" stroke-width="2.3" stroke-linejoin="miter" stroke-miterlimit="4"/>
<polyline points="302.2,363.8 307.4,343.6 310.4,346.1 313.4,343.6 316.5,346.0 319.5,343.4 322.5,345.9 325.5,343.3 328.5,345.7 331.6,343.2 334.6,345.6 337.6,343.0 340.6,345.5 343.6,342.9 346.7,345.4 349.7,342.8 352.7,345.3 355.7,342.7 358.8,345.2 361.8,342.5 364.8,345.0 367.8,342.4 370.8,344.9 373.9,342.3 376.9,344.8 379.9,342.1 382.9,344.7 385.9,342.0 389.0,344.6 392.0,341.9 395.0,344.4 398.0,341.8 401.0,344.3 404.1,341.6 407.1,344.2 410.1,341.5 413.1,344.1 414.5,342.9" fill="none" stroke="#ff1a1a" stroke-width="2.3" stroke-linejoin="miter" stroke-miterlimit="4"/>
<polyline points="302.2,363.8 307.4,327.7 310.4,331.3 313.4,327.7 316.5,331.2 319.5,327.6 322.5,331.1 325.5,327.5 328.5,331.1 331.6,327.5 334.6,331.0 337.6,327.4 340.6,331.0 343.6,327.3 346.7,330.9 349.7,327.3 352.7,330.8 355.7,327.2 358.8,330.8 361.8,327.2 364.8,330.7 367.8,327.1 370.8,330.6 373.9,327.0 376.9,330.6 379.9,327.0 382.9,330.5 385.9,326.9 389.0,330.4 392.0,326.8 395.0,330.4 398.0,326.8 401.0,330.3 404.1,326.7 407.1,330.3 410.1,326.6 413.1,330.2 414.5,328.6" fill="none" stroke="#ff8000" stroke-width="2.3" stroke-linejoin="miter" stroke-miterlimit="4"/>
<polyline points="302.2,363.8 307.4,307.4 310.4,313.2 313.4,307.4 316.5,313.2 319.5,307.5 322.5,313.3 325.5,307.6 328.5,313.4 331.6,307.6 334.6,313.4 337.6,307.7 340.6,313.5 343.6,307.8 346.7,313.5 349.7,307.8 352.7,313.6 355.7,307.9 358.8,313.7 361.8,307.9 364.8,313.7 367.8,308.0 370.8,313.8 373.9,308.1 376.9,313.9 379.9,308.1 382.9,313.9 385.9,308.2 389.0,314.0 392.0,308.3 395.0,314.1 398.0,308.3 401.0,314.1 404.1,308.4 407.1,314.2 410.1,308.5 413.1,314.3 414.5,311.6" fill="none" stroke="#00c000" stroke-width="2.3" stroke-linejoin="miter" stroke-miterlimit="4"/>
<polyline points="302.2,363.8 307.4,287.6 310.4,295.9 313.4,287.6 316.5,295.9 319.5,287.7 322.5,295.9 325.5,287.8 328.5,295.9 331.6,287.9 334.6,295.9 337.6,288.0 340.6,295.9 343.6,288.1 346.7,296.0 349.7,288.2 352.7,296.0 355.7,288.3 358.8,296.0 361.8,288.4 364.8,296.0 367.8,288.5 370.8,296.0 373.9,288.6 376.9,296.1 379.9,288.7 382.9,296.1 385.9,288.8 389.0,296.1 392.0,288.9 395.0,296.1 398.0,289.0 401.0,296.1 404.1,289.1 407.1,296.1 410.1,289.2 413.1,296.2 414.5,293.1" fill="none" stroke="#0000ff" stroke-width="2.3" stroke-linejoin="miter" stroke-miterlimit="4"/>
</g>
<rect x="302.2" y="270.2" width="112.3" height="93.6" fill="none" stroke="#858585" stroke-width="1.3"/>
<path d="M302.2 363.8v-1.8M302.2 270.2v1.8M324.7 363.8v-1.8M324.7 270.2v1.8M347.1 363.8v-1.8M347.1 270.2v1.8M369.6 363.8v-1.8M369.6 270.2v1.8M392.0 363.8v-1.8M392.0 270.2v1.8M414.5 363.8v-1.8M414.5 270.2v1.8M302.2 363.8h1.8M414.5 363.8h-1.8M302.2 348.2h1.8M414.5 348.2h-1.8M302.2 332.6h1.8M414.5 332.6h-1.8M302.2 317.0h1.8M414.5 317.0h-1.8M302.2 301.4h1.8M414.5 301.4h-1.8M302.2 285.8h1.8M414.5 285.8h-1.8M302.2 270.2h1.8M414.5 270.2h-1.8" stroke="#303030" stroke-width="1"/>
<text x="300.2" y="365.8" text-anchor="end" class="tk">0</text>
<text x="300.2" y="350.2" text-anchor="end" class="tk">1</text>
<text x="300.2" y="334.6" text-anchor="end" class="tk">2</text>
<text x="300.2" y="319.0" text-anchor="end" class="tk">3</text>
<text x="300.2" y="303.4" text-anchor="end" class="tk">4</text>
<text x="300.2" y="287.8" text-anchor="end" class="tk">5</text>
<text x="300.2" y="272.2" text-anchor="end" class="tk">6</text>
<text x="302.2" y="370.6" text-anchor="middle" class="tk">0</text>
<text x="324.7" y="370.6" text-anchor="middle" class="tk">10</text>
<text x="347.1" y="370.6" text-anchor="middle" class="tk">20</text>
<text x="369.6" y="370.6" text-anchor="middle" class="tk">30</text>
<text x="392.0" y="370.6" text-anchor="middle" class="tk">40</text>
<text x="414.5" y="370.6" text-anchor="middle" class="tk">50</text>
<rect x="322.4" y="265.6" width="87.6" height="16.8" fill="#fff" stroke="#9a9a9a" stroke-width="0.7"/>
<path d="M410.3 266.6V282.7H323.4" fill="none" stroke="#111" stroke-width="1.4"/>
<path d="M325.0 268.0h3.5" stroke="#1a1a1a" stroke-width="0.9" stroke-dasharray="1.2 0.6" opacity="0.7"/>
<text x="330.0" y="269.2" class="lg" font-size="3.55"><tspan font-style="italic">I</tspan><tspan class="lsub" dy="0.7">amp</tspan><tspan dy="-0.7">1A,</tspan>β MTPA,NoMap</text>
<path d="M369.0 268.0h3.5" stroke="#ff1a1a" stroke-width="0.9" stroke-dasharray="1.2 0.6" opacity="0.7"/>
<text x="373.0" y="269.2" class="lg" font-size="3.55"><tspan font-style="italic">I</tspan><tspan class="lsub" dy="0.7">amp</tspan><tspan dy="-0.7">4A,</tspan>β MTPA,NoMap</text>
<path d="M325.0 273.6h3.5" stroke="#ff8000" stroke-width="0.9" stroke-dasharray="1.2 0.6" opacity="0.7"/>
<text x="330.0" y="274.8" class="lg" font-size="3.55"><tspan font-style="italic">I</tspan><tspan class="lsub" dy="0.7">amp</tspan><tspan dy="-0.7">6A,</tspan>β MTPA,NoMap</text>
<path d="M369.0 273.6h3.5" stroke="#00c000" stroke-width="0.9" stroke-dasharray="1.2 0.6" opacity="0.7"/>
<text x="373.0" y="274.8" class="lg" font-size="3.55"><tspan font-style="italic">I</tspan><tspan class="lsub" dy="0.7">amp</tspan><tspan dy="-0.7">8A,</tspan>β MTPA,NoMap</text>
<path d="M325.0 279.4h3.5" stroke="#0000ff" stroke-width="0.9" stroke-dasharray="1.2 0.6" opacity="0.7"/>
<text x="330.0" y="280.6" class="lg" font-size="3.55"><tspan font-style="italic">I</tspan><tspan class="lsub" dy="0.7">amp</tspan><tspan dy="-0.7">10A,</tspan>β MTPA,NoMap</text>
<text transform="translate(293.6,316.8) rotate(-90)" text-anchor="middle" class="yl">Torque, <tspan font-style="italic">T</tspan><tspan font-size="5" dy="1.3" font-style="italic">ave</tspan><tspan dy="-1.3"> (Nm)</tspan></text>
<text x="357.8" y="377.9" text-anchor="middle" class="xl">Time (ms)</text>
<text x="350.0" y="392.0" text-anchor="middle" class="cap">(k) <tspan font-style="italic">T</tspan><tspan class="sub" font-style="italic" dy="2">ave</tspan><tspan dy="-2"> profile </tspan><tspan font-family="Liberation Serif" font-style="italic" font-size="10.5">β</tspan><tspan font-size="5"> </tspan>MTPA, No Map</text>
<clipPath id="c445"><rect x="425.2" y="268.3" width="112.30000000000001" height="97.09999999999997"/></clipPath>
<g clip-path="url(#c445)">
<polyline points="425.2,365.4 427.9,363.9 430.9,362.2 433.9,363.9 437.0,362.1 440.0,363.8 443.0,362.0 446.1,363.7 449.1,361.9 452.1,363.5 455.2,361.7 458.2,363.4 461.2,361.6 464.3,363.3 467.3,361.5 470.3,363.1 473.3,361.4 476.4,363.0 479.4,361.2 482.4,362.9 485.5,361.1 488.5,362.8 491.5,361.0 494.6,362.6 497.6,360.8 500.6,362.5 503.7,360.7 506.7,362.4 509.7,360.6 512.8,362.2 515.8,360.5 518.8,362.1 521.9,360.3 524.9,362.0 527.9,360.2 531.0,361.9 534.0,360.1 537.0,361.7 537.5,361.5" fill="none" stroke="#1a1a1a" stroke-width="2.3" stroke-linejoin="miter" stroke-miterlimit="4"/>
<polyline points="425.2,365.4 427.9,349.3 430.9,347.9 433.9,349.3 437.0,347.8 440.0,349.1 443.0,347.6 446.1,348.8 449.1,347.3 452.1,348.6 455.2,347.1 458.2,348.3 461.2,346.8 464.3,348.1 467.3,346.6 470.3,347.8 473.3,346.3 476.4,347.6 479.4,346.1 482.4,347.3 485.5,345.8 488.5,347.1 491.5,345.6 494.6,346.8 497.6,345.3 500.6,346.6 503.7,345.1 506.7,346.4 509.7,344.8 512.8,346.1 515.8,344.6 518.8,345.9 521.9,344.3 524.9,345.6 527.9,344.1 531.0,345.4 534.0,343.8 537.0,345.1 537.5,344.9" fill="none" stroke="#ff1a1a" stroke-width="2.3" stroke-linejoin="miter" stroke-miterlimit="4"/>
<polyline points="425.2,365.4 430.9,331.9 433.9,335.5 437.0,331.9 440.0,335.4 443.0,331.7 446.1,335.3 449.1,331.6 452.1,335.2 455.2,331.5 458.2,335.0 461.2,331.4 464.3,334.9 467.3,331.3 470.3,334.8 473.3,331.1 476.4,334.7 479.4,331.0 482.4,334.6 485.5,330.9 488.5,334.5 491.5,330.8 494.6,334.3 497.6,330.7 500.6,334.2 503.7,330.5 506.7,334.1 509.7,330.4 512.8,334.0 515.8,330.3 518.8,333.9 521.9,330.2 524.9,333.7 527.9,330.1 531.0,333.6 534.0,329.9 537.0,333.5 537.5,332.9" fill="none" stroke="#ff8000" stroke-width="2.3" stroke-linejoin="miter" stroke-miterlimit="4"/>
<polyline points="425.2,365.4 430.9,318.1 433.9,321.9 437.0,318.0 440.0,321.8 443.0,317.8 446.1,321.8 449.1,317.7 452.1,321.7 455.2,317.5 458.2,321.6 461.2,317.3 464.3,321.6 467.3,317.1 470.3,321.5 473.3,316.9 476.4,321.4 479.4,316.7 482.4,321.4 485.5,316.6 488.5,321.3 491.5,316.4 494.6,321.2 497.6,316.2 500.6,321.2 503.7,316.0 506.7,321.1 509.7,315.8 512.8,321.0 515.8,315.6 518.8,321.0 521.9,315.5 524.9,320.9 527.9,315.3 531.0,320.9 534.0,315.1 537.0,320.8 537.5,319.9" fill="none" stroke="#00c000" stroke-width="2.3" stroke-linejoin="miter" stroke-miterlimit="4"/>
<polyline points="425.2,365.4 430.9,305.1 433.9,311.5 437.0,305.0 440.0,311.4 443.0,304.9 446.1,311.4 449.1,304.7 452.1,311.3 455.2,304.5 458.2,311.2 461.2,304.4 464.3,311.1 467.3,304.2 470.3,311.0 473.3,304.0 476.4,311.0 479.4,303.9 482.4,310.9 485.5,303.7 488.5,310.8 491.5,303.5 494.6,310.7 497.6,303.4 500.6,310.6 503.7,303.2 506.7,310.5 509.7,303.0 512.8,310.5 515.8,302.9 518.8,310.4 521.9,302.7 524.9,310.3 527.9,302.5 531.0,310.2 534.0,302.4 537.0,310.1 537.5,308.9" fill="none" stroke="#0000ff" stroke-width="2.3" stroke-linejoin="miter" stroke-miterlimit="4"/>
</g>
<rect x="425.2" y="271.3" width="112.3" height="94.1" fill="none" stroke="#858585" stroke-width="1.3"/>
<path d="M425.2 365.4v-1.8M425.2 271.3v1.8M447.7 365.4v-1.8M447.7 271.3v1.8M470.1 365.4v-1.8M470.1 271.3v1.8M492.6 365.4v-1.8M492.6 271.3v1.8M515.0 365.4v-1.8M515.0 271.3v1.8M537.5 365.4v-1.8M537.5 271.3v1.8M425.2 365.4h1.8M537.5 365.4h-1.8M425.2 349.7h1.8M537.5 349.7h-1.8M425.2 334.0h1.8M537.5 334.0h-1.8M425.2 318.4h1.8M537.5 318.4h-1.8M425.2 302.7h1.8M537.5 302.7h-1.8M425.2 287.0h1.8M537.5 287.0h-1.8M425.2 271.3h1.8M537.5 271.3h-1.8" stroke="#303030" stroke-width="1"/>
<text x="423.2" y="367.4" text-anchor="end" class="tk">0</text>
<text x="423.2" y="351.7" text-anchor="end" class="tk">1</text>
<text x="423.2" y="336.0" text-anchor="end" class="tk">2</text>
<text x="423.2" y="320.4" text-anchor="end" class="tk">3</text>
<text x="423.2" y="304.7" text-anchor="end" class="tk">4</text>
<text x="423.2" y="289.0" text-anchor="end" class="tk">5</text>
<text x="423.2" y="273.3" text-anchor="end" class="tk">6</text>
<text x="425.2" y="372.2" text-anchor="middle" class="tk">0</text>
<text x="447.7" y="372.2" text-anchor="middle" class="tk">10</text>
<text x="470.1" y="372.2" text-anchor="middle" class="tk">20</text>
<text x="492.6" y="372.2" text-anchor="middle" class="tk">30</text>
<text x="515.0" y="372.2" text-anchor="middle" class="tk">40</text>
<text x="537.5" y="372.2" text-anchor="middle" class="tk">50</text>
<rect x="456.9" y="274.5" width="78.1" height="17.3" fill="#fff" stroke="#9a9a9a" stroke-width="0.7"/>
<path d="M535.3 275.5V292.1H457.9" fill="none" stroke="#111" stroke-width="1.4"/>
<path d="M459.5 277.4h3.5" stroke="#1a1a1a" stroke-width="0.9" stroke-dasharray="1.2 0.6" opacity="0.7"/>
<text x="463.0" y="278.6" class="lg" font-size="3.55"><tspan font-style="italic">I</tspan><tspan class="lsub" dy="0.7">amp</tspan><tspan dy="-0.7">1A,</tspan>β MTPA,Map</text>
<path d="M499.2 277.4h3.5" stroke="#ff1a1a" stroke-width="0.9" stroke-dasharray="1.2 0.6" opacity="0.7"/>
<text x="503.0" y="278.6" class="lg" font-size="3.55"><tspan font-style="italic">I</tspan><tspan class="lsub" dy="0.7">amp</tspan><tspan dy="-0.7">4A,</tspan>β MTPA,Map</text>
<path d="M459.5 282.8h3.5" stroke="#ff8000" stroke-width="0.9" stroke-dasharray="1.2 0.6" opacity="0.7"/>
<text x="463.0" y="284.0" class="lg" font-size="3.55"><tspan font-style="italic">I</tspan><tspan class="lsub" dy="0.7">amp</tspan><tspan dy="-0.7">6A,</tspan>β MTPA,Map</text>
<path d="M499.2 282.8h3.5" stroke="#00c000" stroke-width="0.9" stroke-dasharray="1.2 0.6" opacity="0.7"/>
<text x="503.0" y="284.0" class="lg" font-size="3.55"><tspan font-style="italic">I</tspan><tspan class="lsub" dy="0.7">amp</tspan><tspan dy="-0.7">8A,</tspan>β MTPA,Map</text>
<path d="M459.5 288.3h3.5" stroke="#0000ff" stroke-width="0.9" stroke-dasharray="1.2 0.6" opacity="0.7"/>
<text x="463.0" y="289.5" class="lg" font-size="3.55"><tspan font-style="italic">I</tspan><tspan class="lsub" dy="0.7">amp</tspan><tspan dy="-0.7">10A,</tspan>β MTPA,Map</text>
<text x="481.5" y="379.0" text-anchor="middle" class="xl">Time (ms)</text>
<text x="478.0" y="391.8" text-anchor="middle" class="cap">(l) <tspan font-style="italic">T</tspan><tspan class="sub" font-style="italic" dy="2">ave</tspan><tspan dy="-2"> profile </tspan><tspan font-family="Liberation Serif" font-style="italic" font-size="10.5">β</tspan><tspan font-size="5"> </tspan>MTPA, Map</text>
</svg></body></html>
